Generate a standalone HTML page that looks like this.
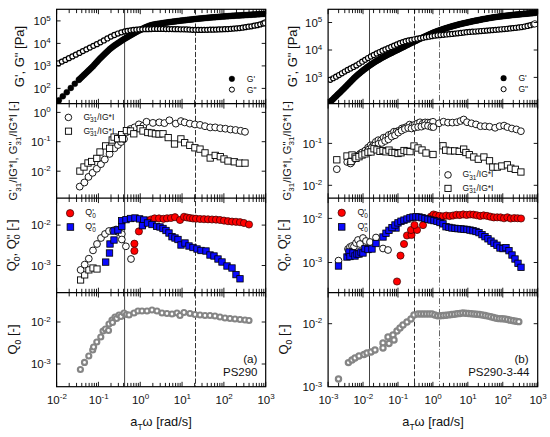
<!DOCTYPE html><html><head><meta charset="utf-8"><style>html,body{margin:0;padding:0;background:#fff}svg{display:block}</style></head><body>
<svg width="550" height="437" viewBox="0 0 550 437">
<rect width="550" height="437" fill="#fff"/>
<defs>
<clipPath id="c0"><rect x="56.6" y="9.3" width="209.1" height="94.4"/><rect x="328.1" y="9.3" width="209.6" height="94.4"/></clipPath>
<clipPath id="c1"><rect x="56.6" y="103.7" width="209.1" height="94.5"/><rect x="328.1" y="103.7" width="209.6" height="94.5"/></clipPath>
<clipPath id="c2"><rect x="56.6" y="198.2" width="209.1" height="94.4"/><rect x="328.1" y="198.2" width="209.6" height="94.4"/></clipPath>
<clipPath id="c3"><rect x="56.6" y="292.6" width="209.1" height="94.1"/><rect x="328.1" y="292.6" width="209.6" height="94.1"/></clipPath>
</defs>
<line x1="124.6" y1="9.3" x2="124.6" y2="386.7" stroke="#444" stroke-width="1.0" />
<line x1="195.5" y1="9.3" x2="195.5" y2="386.7" stroke="#333" stroke-width="1.0" stroke-dasharray="5.2 1.9"/>
<line x1="369.5" y1="9.3" x2="369.5" y2="386.7" stroke="#444" stroke-width="1.0" />
<line x1="414.5" y1="9.3" x2="414.5" y2="386.7" stroke="#333" stroke-width="1.0" stroke-dasharray="4.8 2.3"/>
<line x1="439.5" y1="9.3" x2="439.5" y2="386.7" stroke="#666" stroke-width="1.0" stroke-dasharray="5.9 2 0.8 2"/>
<g clip-path="url(#c0)">
<circle cx="58.8" cy="100.4" r="3.05" fill="#000" stroke="#000" stroke-width="0.3"/>
<circle cx="62.8" cy="96.31" r="3.05" fill="#000" stroke="#000" stroke-width="0.3"/>
<circle cx="66.8" cy="92.19" r="3.05" fill="#000" stroke="#000" stroke-width="0.3"/>
<circle cx="70.8" cy="87.96" r="3.05" fill="#000" stroke="#000" stroke-width="0.3"/>
<circle cx="74.8" cy="83.8" r="3.05" fill="#000" stroke="#000" stroke-width="0.3"/>
<circle cx="78.8" cy="79.9" r="3.05" fill="#000" stroke="#000" stroke-width="0.3"/>
<circle cx="80" cy="78.75" r="3.0" fill="#000" stroke="#000" stroke-width="0.3"/>
<circle cx="81.3" cy="77.51" r="3.0" fill="#000" stroke="#000" stroke-width="0.3"/>
<circle cx="82.6" cy="76.28" r="3.0" fill="#000" stroke="#000" stroke-width="0.3"/>
<circle cx="83.9" cy="75.04" r="3.0" fill="#000" stroke="#000" stroke-width="0.3"/>
<circle cx="85.2" cy="73.8" r="3.0" fill="#000" stroke="#000" stroke-width="0.3"/>
<circle cx="86.5" cy="72.55" r="3.0" fill="#000" stroke="#000" stroke-width="0.3"/>
<circle cx="87.8" cy="71.3" r="3.0" fill="#000" stroke="#000" stroke-width="0.3"/>
<circle cx="89.1" cy="70.06" r="3.0" fill="#000" stroke="#000" stroke-width="0.3"/>
<circle cx="90.4" cy="68.8" r="3.0" fill="#000" stroke="#000" stroke-width="0.3"/>
<circle cx="91.7" cy="67.51" r="3.0" fill="#000" stroke="#000" stroke-width="0.3"/>
<circle cx="93" cy="66.19" r="3.0" fill="#000" stroke="#000" stroke-width="0.3"/>
<circle cx="94.3" cy="64.79" r="3.0" fill="#000" stroke="#000" stroke-width="0.3"/>
<circle cx="95.6" cy="63.35" r="3.0" fill="#000" stroke="#000" stroke-width="0.3"/>
<circle cx="96.9" cy="61.89" r="3.0" fill="#000" stroke="#000" stroke-width="0.3"/>
<circle cx="98.2" cy="60.47" r="3.0" fill="#000" stroke="#000" stroke-width="0.3"/>
<circle cx="99.5" cy="59.11" r="3.0" fill="#000" stroke="#000" stroke-width="0.3"/>
<circle cx="100.8" cy="57.79" r="3.0" fill="#000" stroke="#000" stroke-width="0.3"/>
<circle cx="102.1" cy="56.48" r="3.0" fill="#000" stroke="#000" stroke-width="0.3"/>
<circle cx="103.4" cy="55.18" r="3.0" fill="#000" stroke="#000" stroke-width="0.3"/>
<circle cx="104.7" cy="53.9" r="3.0" fill="#000" stroke="#000" stroke-width="0.3"/>
<circle cx="106" cy="52.63" r="3.0" fill="#000" stroke="#000" stroke-width="0.3"/>
<circle cx="107.3" cy="51.4" r="3.0" fill="#000" stroke="#000" stroke-width="0.3"/>
<circle cx="108.6" cy="50.2" r="3.0" fill="#000" stroke="#000" stroke-width="0.3"/>
<circle cx="109.9" cy="49.05" r="3.0" fill="#000" stroke="#000" stroke-width="0.3"/>
<circle cx="111.2" cy="47.96" r="3.0" fill="#000" stroke="#000" stroke-width="0.3"/>
<circle cx="112.5" cy="46.94" r="3.0" fill="#000" stroke="#000" stroke-width="0.3"/>
<circle cx="113.8" cy="45.97" r="3.0" fill="#000" stroke="#000" stroke-width="0.3"/>
<circle cx="115.1" cy="45.05" r="3.0" fill="#000" stroke="#000" stroke-width="0.3"/>
<circle cx="116.4" cy="44.16" r="3.0" fill="#000" stroke="#000" stroke-width="0.3"/>
<circle cx="117.7" cy="43.29" r="3.0" fill="#000" stroke="#000" stroke-width="0.3"/>
<circle cx="119" cy="42.44" r="3.0" fill="#000" stroke="#000" stroke-width="0.3"/>
<circle cx="120.3" cy="41.59" r="3.0" fill="#000" stroke="#000" stroke-width="0.3"/>
<circle cx="121.6" cy="40.73" r="3.0" fill="#000" stroke="#000" stroke-width="0.3"/>
<circle cx="122.9" cy="39.87" r="3.0" fill="#000" stroke="#000" stroke-width="0.3"/>
<circle cx="124.2" cy="39.05" r="3.0" fill="#000" stroke="#000" stroke-width="0.3"/>
<circle cx="125.5" cy="38.27" r="3.0" fill="#000" stroke="#000" stroke-width="0.3"/>
<circle cx="126.8" cy="37.5" r="3.0" fill="#000" stroke="#000" stroke-width="0.3"/>
<circle cx="128.1" cy="36.72" r="3.0" fill="#000" stroke="#000" stroke-width="0.3"/>
<circle cx="129.4" cy="35.93" r="3.0" fill="#000" stroke="#000" stroke-width="0.3"/>
<circle cx="130.7" cy="35.16" r="3.0" fill="#000" stroke="#000" stroke-width="0.3"/>
<circle cx="132" cy="34.4" r="3.0" fill="#000" stroke="#000" stroke-width="0.3"/>
<circle cx="133.3" cy="33.66" r="3.0" fill="#000" stroke="#000" stroke-width="0.3"/>
<circle cx="134.6" cy="32.91" r="3.0" fill="#000" stroke="#000" stroke-width="0.3"/>
<circle cx="135.9" cy="32.19" r="3.0" fill="#000" stroke="#000" stroke-width="0.3"/>
<circle cx="137.2" cy="31.51" r="3.0" fill="#000" stroke="#000" stroke-width="0.3"/>
<circle cx="138.5" cy="30.85" r="3.0" fill="#000" stroke="#000" stroke-width="0.3"/>
<circle cx="139.8" cy="30.18" r="3.0" fill="#000" stroke="#000" stroke-width="0.3"/>
<circle cx="141.1" cy="29.51" r="3.0" fill="#000" stroke="#000" stroke-width="0.3"/>
<circle cx="142.4" cy="28.84" r="3.0" fill="#000" stroke="#000" stroke-width="0.3"/>
<circle cx="143.7" cy="28.19" r="3.0" fill="#000" stroke="#000" stroke-width="0.3"/>
<circle cx="145" cy="27.55" r="3.0" fill="#000" stroke="#000" stroke-width="0.3"/>
<circle cx="146.3" cy="26.95" r="3.0" fill="#000" stroke="#000" stroke-width="0.3"/>
<circle cx="147.6" cy="26.38" r="3.0" fill="#000" stroke="#000" stroke-width="0.3"/>
<circle cx="148.9" cy="25.88" r="3.0" fill="#000" stroke="#000" stroke-width="0.3"/>
<circle cx="150.2" cy="25.44" r="3.0" fill="#000" stroke="#000" stroke-width="0.3"/>
<circle cx="151.5" cy="25.06" r="3.0" fill="#000" stroke="#000" stroke-width="0.3"/>
<circle cx="152.8" cy="24.75" r="3.0" fill="#000" stroke="#000" stroke-width="0.3"/>
<circle cx="154.1" cy="24.49" r="3.0" fill="#000" stroke="#000" stroke-width="0.3"/>
<circle cx="155.4" cy="24.27" r="3.0" fill="#000" stroke="#000" stroke-width="0.3"/>
<circle cx="156.7" cy="24.06" r="3.0" fill="#000" stroke="#000" stroke-width="0.3"/>
<circle cx="158" cy="23.85" r="3.0" fill="#000" stroke="#000" stroke-width="0.3"/>
<circle cx="159.3" cy="23.63" r="3.0" fill="#000" stroke="#000" stroke-width="0.3"/>
<circle cx="160.6" cy="23.42" r="3.0" fill="#000" stroke="#000" stroke-width="0.3"/>
<circle cx="161.9" cy="23.22" r="3.0" fill="#000" stroke="#000" stroke-width="0.3"/>
<circle cx="163.2" cy="23.02" r="3.0" fill="#000" stroke="#000" stroke-width="0.3"/>
<circle cx="164.5" cy="22.83" r="3.0" fill="#000" stroke="#000" stroke-width="0.3"/>
<circle cx="165.8" cy="22.64" r="3.0" fill="#000" stroke="#000" stroke-width="0.3"/>
<circle cx="167.1" cy="22.46" r="3.0" fill="#000" stroke="#000" stroke-width="0.3"/>
<circle cx="168.4" cy="22.28" r="3.0" fill="#000" stroke="#000" stroke-width="0.3"/>
<circle cx="169.7" cy="22.1" r="3.0" fill="#000" stroke="#000" stroke-width="0.3"/>
<circle cx="171" cy="21.93" r="3.0" fill="#000" stroke="#000" stroke-width="0.3"/>
<circle cx="172.3" cy="21.75" r="3.0" fill="#000" stroke="#000" stroke-width="0.3"/>
<circle cx="173.6" cy="21.58" r="3.0" fill="#000" stroke="#000" stroke-width="0.3"/>
<circle cx="174.9" cy="21.41" r="3.0" fill="#000" stroke="#000" stroke-width="0.3"/>
<circle cx="176.2" cy="21.25" r="3.0" fill="#000" stroke="#000" stroke-width="0.3"/>
<circle cx="177.5" cy="21.08" r="3.0" fill="#000" stroke="#000" stroke-width="0.3"/>
<circle cx="178.8" cy="20.92" r="3.0" fill="#000" stroke="#000" stroke-width="0.3"/>
<circle cx="180.1" cy="20.76" r="3.0" fill="#000" stroke="#000" stroke-width="0.3"/>
<circle cx="181.4" cy="20.6" r="3.0" fill="#000" stroke="#000" stroke-width="0.3"/>
<circle cx="182.7" cy="20.44" r="3.0" fill="#000" stroke="#000" stroke-width="0.3"/>
<circle cx="184" cy="20.29" r="3.0" fill="#000" stroke="#000" stroke-width="0.3"/>
<circle cx="185.3" cy="20.14" r="3.0" fill="#000" stroke="#000" stroke-width="0.3"/>
<circle cx="186.6" cy="19.99" r="3.0" fill="#000" stroke="#000" stroke-width="0.3"/>
<circle cx="187.9" cy="19.84" r="3.0" fill="#000" stroke="#000" stroke-width="0.3"/>
<circle cx="189.2" cy="19.69" r="3.0" fill="#000" stroke="#000" stroke-width="0.3"/>
<circle cx="190.5" cy="19.54" r="3.0" fill="#000" stroke="#000" stroke-width="0.3"/>
<circle cx="191.8" cy="19.4" r="3.0" fill="#000" stroke="#000" stroke-width="0.3"/>
<circle cx="193.1" cy="19.25" r="3.0" fill="#000" stroke="#000" stroke-width="0.3"/>
<circle cx="194.4" cy="19.11" r="3.0" fill="#000" stroke="#000" stroke-width="0.3"/>
<circle cx="195.7" cy="18.97" r="3.0" fill="#000" stroke="#000" stroke-width="0.3"/>
<circle cx="197" cy="18.84" r="3.0" fill="#000" stroke="#000" stroke-width="0.3"/>
<circle cx="198.3" cy="18.7" r="3.0" fill="#000" stroke="#000" stroke-width="0.3"/>
<circle cx="199.6" cy="18.57" r="3.0" fill="#000" stroke="#000" stroke-width="0.3"/>
<circle cx="200.9" cy="18.44" r="3.0" fill="#000" stroke="#000" stroke-width="0.3"/>
<circle cx="202.2" cy="18.32" r="3.0" fill="#000" stroke="#000" stroke-width="0.3"/>
<circle cx="203.5" cy="18.19" r="3.0" fill="#000" stroke="#000" stroke-width="0.3"/>
<circle cx="204.8" cy="18.07" r="3.0" fill="#000" stroke="#000" stroke-width="0.3"/>
<circle cx="206.1" cy="17.95" r="3.0" fill="#000" stroke="#000" stroke-width="0.3"/>
<circle cx="207.4" cy="17.83" r="3.0" fill="#000" stroke="#000" stroke-width="0.3"/>
<circle cx="208.7" cy="17.72" r="3.0" fill="#000" stroke="#000" stroke-width="0.3"/>
<circle cx="210" cy="17.6" r="3.0" fill="#000" stroke="#000" stroke-width="0.3"/>
<circle cx="211.3" cy="17.49" r="3.0" fill="#000" stroke="#000" stroke-width="0.3"/>
<circle cx="212.6" cy="17.37" r="3.0" fill="#000" stroke="#000" stroke-width="0.3"/>
<circle cx="213.9" cy="17.26" r="3.0" fill="#000" stroke="#000" stroke-width="0.3"/>
<circle cx="215.2" cy="17.15" r="3.0" fill="#000" stroke="#000" stroke-width="0.3"/>
<circle cx="216.5" cy="17.04" r="3.0" fill="#000" stroke="#000" stroke-width="0.3"/>
<circle cx="217.8" cy="16.94" r="3.0" fill="#000" stroke="#000" stroke-width="0.3"/>
<circle cx="219.1" cy="16.83" r="3.0" fill="#000" stroke="#000" stroke-width="0.3"/>
<circle cx="220.4" cy="16.73" r="3.0" fill="#000" stroke="#000" stroke-width="0.3"/>
<circle cx="221.7" cy="16.62" r="3.0" fill="#000" stroke="#000" stroke-width="0.3"/>
<circle cx="223" cy="16.52" r="3.0" fill="#000" stroke="#000" stroke-width="0.3"/>
<circle cx="224.3" cy="16.42" r="3.0" fill="#000" stroke="#000" stroke-width="0.3"/>
<circle cx="225.6" cy="16.32" r="3.0" fill="#000" stroke="#000" stroke-width="0.3"/>
<circle cx="226.9" cy="16.22" r="3.0" fill="#000" stroke="#000" stroke-width="0.3"/>
<circle cx="228.2" cy="16.13" r="3.0" fill="#000" stroke="#000" stroke-width="0.3"/>
<circle cx="229.5" cy="16.04" r="3.0" fill="#000" stroke="#000" stroke-width="0.3"/>
<circle cx="230.8" cy="15.95" r="3.0" fill="#000" stroke="#000" stroke-width="0.3"/>
<circle cx="232.1" cy="15.86" r="3.0" fill="#000" stroke="#000" stroke-width="0.3"/>
<circle cx="233.4" cy="15.77" r="3.0" fill="#000" stroke="#000" stroke-width="0.3"/>
<circle cx="234.7" cy="15.69" r="3.0" fill="#000" stroke="#000" stroke-width="0.3"/>
<circle cx="236" cy="15.61" r="3.0" fill="#000" stroke="#000" stroke-width="0.3"/>
<circle cx="237.3" cy="15.54" r="3.0" fill="#000" stroke="#000" stroke-width="0.3"/>
<circle cx="238.6" cy="15.46" r="3.0" fill="#000" stroke="#000" stroke-width="0.3"/>
<circle cx="239.9" cy="15.38" r="3.0" fill="#000" stroke="#000" stroke-width="0.3"/>
<circle cx="241.2" cy="15.31" r="3.0" fill="#000" stroke="#000" stroke-width="0.3"/>
<circle cx="242.5" cy="15.24" r="3.0" fill="#000" stroke="#000" stroke-width="0.3"/>
<circle cx="243.8" cy="15.16" r="3.0" fill="#000" stroke="#000" stroke-width="0.3"/>
<circle cx="245.1" cy="15.09" r="3.0" fill="#000" stroke="#000" stroke-width="0.3"/>
<circle cx="246.4" cy="15.01" r="3.0" fill="#000" stroke="#000" stroke-width="0.3"/>
<circle cx="247.7" cy="14.94" r="3.0" fill="#000" stroke="#000" stroke-width="0.3"/>
<circle cx="249" cy="14.86" r="3.0" fill="#000" stroke="#000" stroke-width="0.3"/>
<circle cx="250.3" cy="14.78" r="3.0" fill="#000" stroke="#000" stroke-width="0.3"/>
<circle cx="251.6" cy="14.7" r="3.0" fill="#000" stroke="#000" stroke-width="0.3"/>
<circle cx="252.9" cy="14.62" r="3.0" fill="#000" stroke="#000" stroke-width="0.3"/>
<circle cx="254.2" cy="14.54" r="3.0" fill="#000" stroke="#000" stroke-width="0.3"/>
<circle cx="255.5" cy="14.45" r="3.0" fill="#000" stroke="#000" stroke-width="0.3"/>
<circle cx="256.8" cy="14.37" r="3.0" fill="#000" stroke="#000" stroke-width="0.3"/>
<circle cx="258.1" cy="14.28" r="3.0" fill="#000" stroke="#000" stroke-width="0.3"/>
<circle cx="259.4" cy="14.2" r="3.0" fill="#000" stroke="#000" stroke-width="0.3"/>
<circle cx="260.7" cy="14.11" r="3.0" fill="#000" stroke="#000" stroke-width="0.3"/>
<circle cx="262" cy="14.03" r="3.0" fill="#000" stroke="#000" stroke-width="0.3"/>
<circle cx="263.3" cy="13.94" r="3.0" fill="#000" stroke="#000" stroke-width="0.3"/>
<circle cx="264.6" cy="13.86" r="3.0" fill="#000" stroke="#000" stroke-width="0.3"/>
<circle cx="58.4" cy="63.3" r="2.55" fill="#fff" stroke="#000" stroke-width="1.2"/>
<circle cx="61.9" cy="61.6" r="2.55" fill="#fff" stroke="#000" stroke-width="1.2"/>
<circle cx="65.4" cy="59.89" r="2.55" fill="#fff" stroke="#000" stroke-width="1.2"/>
<circle cx="68.9" cy="58.16" r="2.55" fill="#fff" stroke="#000" stroke-width="1.2"/>
<circle cx="72.4" cy="56.41" r="2.55" fill="#fff" stroke="#000" stroke-width="1.2"/>
<circle cx="75.9" cy="54.65" r="2.55" fill="#fff" stroke="#000" stroke-width="1.2"/>
<circle cx="79.4" cy="52.88" r="2.55" fill="#fff" stroke="#000" stroke-width="1.2"/>
<circle cx="82.9" cy="51.1" r="2.55" fill="#fff" stroke="#000" stroke-width="1.2"/>
<circle cx="86.4" cy="49.35" r="2.55" fill="#fff" stroke="#000" stroke-width="1.2"/>
<circle cx="89.9" cy="47.6" r="2.55" fill="#fff" stroke="#000" stroke-width="1.2"/>
<circle cx="93.4" cy="45.85" r="2.55" fill="#fff" stroke="#000" stroke-width="1.2"/>
<circle cx="96.9" cy="44.13" r="2.55" fill="#fff" stroke="#000" stroke-width="1.2"/>
<circle cx="100.4" cy="42.37" r="2.55" fill="#fff" stroke="#000" stroke-width="1.2"/>
<circle cx="103.9" cy="40.46" r="2.55" fill="#fff" stroke="#000" stroke-width="1.2"/>
<circle cx="107.4" cy="38.44" r="2.55" fill="#fff" stroke="#000" stroke-width="1.2"/>
<circle cx="110.9" cy="36.6" r="2.55" fill="#fff" stroke="#000" stroke-width="1.2"/>
<circle cx="114.4" cy="35" r="2.55" fill="#fff" stroke="#000" stroke-width="1.2"/>
<circle cx="117.9" cy="33.56" r="2.55" fill="#fff" stroke="#000" stroke-width="1.2"/>
<circle cx="121.4" cy="32.33" r="2.55" fill="#fff" stroke="#000" stroke-width="1.2"/>
<circle cx="124.9" cy="31.34" r="2.55" fill="#fff" stroke="#000" stroke-width="1.2"/>
<circle cx="127.5" cy="30.77" r="2.5" fill="#fff" stroke="#000" stroke-width="1.25"/>
<circle cx="130.45" cy="30.29" r="2.5" fill="#fff" stroke="#000" stroke-width="1.25"/>
<circle cx="133.4" cy="29.93" r="2.5" fill="#fff" stroke="#000" stroke-width="1.25"/>
<circle cx="136.35" cy="29.67" r="2.5" fill="#fff" stroke="#000" stroke-width="1.25"/>
<circle cx="139.3" cy="29.49" r="2.5" fill="#fff" stroke="#000" stroke-width="1.25"/>
<circle cx="142.25" cy="29.35" r="2.5" fill="#fff" stroke="#000" stroke-width="1.25"/>
<circle cx="145.2" cy="29.23" r="2.5" fill="#fff" stroke="#000" stroke-width="1.25"/>
<circle cx="148.15" cy="29.13" r="2.5" fill="#fff" stroke="#000" stroke-width="1.25"/>
<circle cx="151.1" cy="29.04" r="2.5" fill="#fff" stroke="#000" stroke-width="1.25"/>
<circle cx="154.05" cy="28.99" r="2.5" fill="#fff" stroke="#000" stroke-width="1.25"/>
<circle cx="157" cy="28.97" r="2.5" fill="#fff" stroke="#000" stroke-width="1.25"/>
<circle cx="159.95" cy="28.97" r="2.5" fill="#fff" stroke="#000" stroke-width="1.25"/>
<circle cx="162.9" cy="28.99" r="2.5" fill="#fff" stroke="#000" stroke-width="1.25"/>
<circle cx="165.85" cy="29.02" r="2.5" fill="#fff" stroke="#000" stroke-width="1.25"/>
<circle cx="168.8" cy="29.06" r="2.5" fill="#fff" stroke="#000" stroke-width="1.25"/>
<circle cx="171.75" cy="29.11" r="2.5" fill="#fff" stroke="#000" stroke-width="1.25"/>
<circle cx="174.7" cy="29.16" r="2.5" fill="#fff" stroke="#000" stroke-width="1.25"/>
<circle cx="177.65" cy="29.22" r="2.5" fill="#fff" stroke="#000" stroke-width="1.25"/>
<circle cx="180.6" cy="29.28" r="2.5" fill="#fff" stroke="#000" stroke-width="1.25"/>
<circle cx="183.55" cy="29.35" r="2.5" fill="#fff" stroke="#000" stroke-width="1.25"/>
<circle cx="186.5" cy="29.43" r="2.5" fill="#fff" stroke="#000" stroke-width="1.25"/>
<circle cx="189.45" cy="29.57" r="2.5" fill="#fff" stroke="#000" stroke-width="1.25"/>
<circle cx="192.4" cy="29.76" r="2.5" fill="#fff" stroke="#000" stroke-width="1.25"/>
<circle cx="195.35" cy="29.87" r="2.5" fill="#fff" stroke="#000" stroke-width="1.25"/>
<circle cx="198.3" cy="29.9" r="2.5" fill="#fff" stroke="#000" stroke-width="1.25"/>
<circle cx="201.25" cy="29.88" r="2.5" fill="#fff" stroke="#000" stroke-width="1.25"/>
<circle cx="204.2" cy="29.83" r="2.5" fill="#fff" stroke="#000" stroke-width="1.25"/>
<circle cx="207.15" cy="29.78" r="2.5" fill="#fff" stroke="#000" stroke-width="1.25"/>
<circle cx="210.1" cy="29.71" r="2.5" fill="#fff" stroke="#000" stroke-width="1.25"/>
<circle cx="213.05" cy="29.63" r="2.5" fill="#fff" stroke="#000" stroke-width="1.25"/>
<circle cx="216" cy="29.54" r="2.5" fill="#fff" stroke="#000" stroke-width="1.25"/>
<circle cx="218.95" cy="29.44" r="2.5" fill="#fff" stroke="#000" stroke-width="1.25"/>
<circle cx="221.9" cy="29.32" r="2.5" fill="#fff" stroke="#000" stroke-width="1.25"/>
<circle cx="224.85" cy="29.17" r="2.5" fill="#fff" stroke="#000" stroke-width="1.25"/>
<circle cx="227.8" cy="29" r="2.5" fill="#fff" stroke="#000" stroke-width="1.25"/>
<circle cx="230.75" cy="28.81" r="2.5" fill="#fff" stroke="#000" stroke-width="1.25"/>
<circle cx="233.7" cy="28.58" r="2.5" fill="#fff" stroke="#000" stroke-width="1.25"/>
<circle cx="236.65" cy="28.33" r="2.5" fill="#fff" stroke="#000" stroke-width="1.25"/>
<circle cx="239.6" cy="28.03" r="2.5" fill="#fff" stroke="#000" stroke-width="1.25"/>
<circle cx="242.55" cy="27.64" r="2.5" fill="#fff" stroke="#000" stroke-width="1.25"/>
<circle cx="245.5" cy="27.2" r="2.5" fill="#fff" stroke="#000" stroke-width="1.25"/>
<circle cx="248.45" cy="26.73" r="2.5" fill="#fff" stroke="#000" stroke-width="1.25"/>
<circle cx="251.4" cy="26.25" r="2.5" fill="#fff" stroke="#000" stroke-width="1.25"/>
<circle cx="254.35" cy="25.73" r="2.5" fill="#fff" stroke="#000" stroke-width="1.25"/>
<circle cx="257.3" cy="25.13" r="2.5" fill="#fff" stroke="#000" stroke-width="1.25"/>
<circle cx="260.25" cy="24.39" r="2.5" fill="#fff" stroke="#000" stroke-width="1.25"/>
<circle cx="263.2" cy="23.54" r="2.5" fill="#fff" stroke="#000" stroke-width="1.25"/>
<circle cx="327.5" cy="104.5" r="3.0" fill="#000" stroke="#000" stroke-width="0.3"/>
<circle cx="328.6" cy="103.43" r="3.0" fill="#000" stroke="#000" stroke-width="0.3"/>
<circle cx="329.7" cy="102.35" r="3.0" fill="#000" stroke="#000" stroke-width="0.3"/>
<circle cx="330.8" cy="101.28" r="3.0" fill="#000" stroke="#000" stroke-width="0.3"/>
<circle cx="331.9" cy="100.2" r="3.0" fill="#000" stroke="#000" stroke-width="0.3"/>
<circle cx="333" cy="99.13" r="3.0" fill="#000" stroke="#000" stroke-width="0.3"/>
<circle cx="334.1" cy="98.05" r="3.0" fill="#000" stroke="#000" stroke-width="0.3"/>
<circle cx="335.2" cy="96.98" r="3.0" fill="#000" stroke="#000" stroke-width="0.3"/>
<circle cx="336.3" cy="95.91" r="3.0" fill="#000" stroke="#000" stroke-width="0.3"/>
<circle cx="337.4" cy="94.84" r="3.0" fill="#000" stroke="#000" stroke-width="0.3"/>
<circle cx="338.5" cy="93.77" r="3.0" fill="#000" stroke="#000" stroke-width="0.3"/>
<circle cx="339.6" cy="92.7" r="3.0" fill="#000" stroke="#000" stroke-width="0.3"/>
<circle cx="340.7" cy="91.64" r="3.0" fill="#000" stroke="#000" stroke-width="0.3"/>
<circle cx="341.8" cy="90.56" r="3.0" fill="#000" stroke="#000" stroke-width="0.3"/>
<circle cx="342.9" cy="89.48" r="3.0" fill="#000" stroke="#000" stroke-width="0.3"/>
<circle cx="344" cy="88.4" r="3.0" fill="#000" stroke="#000" stroke-width="0.3"/>
<circle cx="345.1" cy="87.29" r="3.0" fill="#000" stroke="#000" stroke-width="0.3"/>
<circle cx="346.2" cy="86.17" r="3.0" fill="#000" stroke="#000" stroke-width="0.3"/>
<circle cx="347.3" cy="85.04" r="3.0" fill="#000" stroke="#000" stroke-width="0.3"/>
<circle cx="348.4" cy="83.89" r="3.0" fill="#000" stroke="#000" stroke-width="0.3"/>
<circle cx="349.5" cy="82.76" r="3.0" fill="#000" stroke="#000" stroke-width="0.3"/>
<circle cx="350.6" cy="81.63" r="3.0" fill="#000" stroke="#000" stroke-width="0.3"/>
<circle cx="351.7" cy="80.51" r="3.0" fill="#000" stroke="#000" stroke-width="0.3"/>
<circle cx="352.8" cy="79.41" r="3.0" fill="#000" stroke="#000" stroke-width="0.3"/>
<circle cx="353.9" cy="78.35" r="3.0" fill="#000" stroke="#000" stroke-width="0.3"/>
<circle cx="355" cy="77.3" r="3.0" fill="#000" stroke="#000" stroke-width="0.3"/>
<circle cx="356.1" cy="76.29" r="3.0" fill="#000" stroke="#000" stroke-width="0.3"/>
<circle cx="357.2" cy="75.32" r="3.0" fill="#000" stroke="#000" stroke-width="0.3"/>
<circle cx="358.3" cy="74.36" r="3.0" fill="#000" stroke="#000" stroke-width="0.3"/>
<circle cx="359.4" cy="73.42" r="3.0" fill="#000" stroke="#000" stroke-width="0.3"/>
<circle cx="360.5" cy="72.5" r="3.0" fill="#000" stroke="#000" stroke-width="0.3"/>
<circle cx="361.6" cy="71.59" r="3.0" fill="#000" stroke="#000" stroke-width="0.3"/>
<circle cx="362.7" cy="70.7" r="3.0" fill="#000" stroke="#000" stroke-width="0.3"/>
<circle cx="363.8" cy="69.83" r="3.0" fill="#000" stroke="#000" stroke-width="0.3"/>
<circle cx="364.9" cy="68.98" r="3.0" fill="#000" stroke="#000" stroke-width="0.3"/>
<circle cx="366" cy="68.13" r="3.0" fill="#000" stroke="#000" stroke-width="0.3"/>
<circle cx="367.1" cy="67.31" r="3.0" fill="#000" stroke="#000" stroke-width="0.3"/>
<circle cx="368.2" cy="66.51" r="3.0" fill="#000" stroke="#000" stroke-width="0.3"/>
<circle cx="369.3" cy="65.72" r="3.0" fill="#000" stroke="#000" stroke-width="0.3"/>
<circle cx="370.4" cy="64.95" r="3.0" fill="#000" stroke="#000" stroke-width="0.3"/>
<circle cx="371.5" cy="64.19" r="3.0" fill="#000" stroke="#000" stroke-width="0.3"/>
<circle cx="372.6" cy="63.46" r="3.0" fill="#000" stroke="#000" stroke-width="0.3"/>
<circle cx="373.7" cy="62.74" r="3.0" fill="#000" stroke="#000" stroke-width="0.3"/>
<circle cx="374.8" cy="62.04" r="3.0" fill="#000" stroke="#000" stroke-width="0.3"/>
<circle cx="375.9" cy="61.36" r="3.0" fill="#000" stroke="#000" stroke-width="0.3"/>
<circle cx="377" cy="60.69" r="3.0" fill="#000" stroke="#000" stroke-width="0.3"/>
<circle cx="378.1" cy="60.03" r="3.0" fill="#000" stroke="#000" stroke-width="0.3"/>
<circle cx="379.2" cy="59.39" r="3.0" fill="#000" stroke="#000" stroke-width="0.3"/>
<circle cx="380.3" cy="58.75" r="3.0" fill="#000" stroke="#000" stroke-width="0.3"/>
<circle cx="381.4" cy="58.12" r="3.0" fill="#000" stroke="#000" stroke-width="0.3"/>
<circle cx="382.5" cy="57.5" r="3.0" fill="#000" stroke="#000" stroke-width="0.3"/>
<circle cx="383.6" cy="56.89" r="3.0" fill="#000" stroke="#000" stroke-width="0.3"/>
<circle cx="384.7" cy="56.29" r="3.0" fill="#000" stroke="#000" stroke-width="0.3"/>
<circle cx="385.8" cy="55.71" r="3.0" fill="#000" stroke="#000" stroke-width="0.3"/>
<circle cx="386.9" cy="55.13" r="3.0" fill="#000" stroke="#000" stroke-width="0.3"/>
<circle cx="388" cy="54.57" r="3.0" fill="#000" stroke="#000" stroke-width="0.3"/>
<circle cx="389.1" cy="54.02" r="3.0" fill="#000" stroke="#000" stroke-width="0.3"/>
<circle cx="390.2" cy="53.47" r="3.0" fill="#000" stroke="#000" stroke-width="0.3"/>
<circle cx="391.3" cy="52.93" r="3.0" fill="#000" stroke="#000" stroke-width="0.3"/>
<circle cx="392.4" cy="52.39" r="3.0" fill="#000" stroke="#000" stroke-width="0.3"/>
<circle cx="393.5" cy="51.86" r="3.0" fill="#000" stroke="#000" stroke-width="0.3"/>
<circle cx="394.6" cy="51.32" r="3.0" fill="#000" stroke="#000" stroke-width="0.3"/>
<circle cx="395.7" cy="50.78" r="3.0" fill="#000" stroke="#000" stroke-width="0.3"/>
<circle cx="396.8" cy="50.24" r="3.0" fill="#000" stroke="#000" stroke-width="0.3"/>
<circle cx="397.9" cy="49.7" r="3.0" fill="#000" stroke="#000" stroke-width="0.3"/>
<circle cx="399" cy="49.15" r="3.0" fill="#000" stroke="#000" stroke-width="0.3"/>
<circle cx="400.1" cy="48.6" r="3.0" fill="#000" stroke="#000" stroke-width="0.3"/>
<circle cx="401.2" cy="48.04" r="3.0" fill="#000" stroke="#000" stroke-width="0.3"/>
<circle cx="402.3" cy="47.49" r="3.0" fill="#000" stroke="#000" stroke-width="0.3"/>
<circle cx="403.4" cy="46.94" r="3.0" fill="#000" stroke="#000" stroke-width="0.3"/>
<circle cx="404.5" cy="46.38" r="3.0" fill="#000" stroke="#000" stroke-width="0.3"/>
<circle cx="405.6" cy="45.83" r="3.0" fill="#000" stroke="#000" stroke-width="0.3"/>
<circle cx="406.7" cy="45.28" r="3.0" fill="#000" stroke="#000" stroke-width="0.3"/>
<circle cx="407.8" cy="44.72" r="3.0" fill="#000" stroke="#000" stroke-width="0.3"/>
<circle cx="408.9" cy="44.17" r="3.0" fill="#000" stroke="#000" stroke-width="0.3"/>
<circle cx="410" cy="43.62" r="3.0" fill="#000" stroke="#000" stroke-width="0.3"/>
<circle cx="411.1" cy="43.08" r="3.0" fill="#000" stroke="#000" stroke-width="0.3"/>
<circle cx="412.2" cy="42.53" r="3.0" fill="#000" stroke="#000" stroke-width="0.3"/>
<circle cx="413.3" cy="41.99" r="3.0" fill="#000" stroke="#000" stroke-width="0.3"/>
<circle cx="414.4" cy="41.45" r="3.0" fill="#000" stroke="#000" stroke-width="0.3"/>
<circle cx="415.5" cy="40.92" r="3.0" fill="#000" stroke="#000" stroke-width="0.3"/>
<circle cx="416.6" cy="40.39" r="3.0" fill="#000" stroke="#000" stroke-width="0.3"/>
<circle cx="417.7" cy="39.87" r="3.0" fill="#000" stroke="#000" stroke-width="0.3"/>
<circle cx="418.8" cy="39.35" r="3.0" fill="#000" stroke="#000" stroke-width="0.3"/>
<circle cx="419.9" cy="38.84" r="3.0" fill="#000" stroke="#000" stroke-width="0.3"/>
<circle cx="421" cy="38.33" r="3.0" fill="#000" stroke="#000" stroke-width="0.3"/>
<circle cx="422.1" cy="37.83" r="3.0" fill="#000" stroke="#000" stroke-width="0.3"/>
<circle cx="423.2" cy="37.32" r="3.0" fill="#000" stroke="#000" stroke-width="0.3"/>
<circle cx="424.3" cy="36.82" r="3.0" fill="#000" stroke="#000" stroke-width="0.3"/>
<circle cx="425.4" cy="36.32" r="3.0" fill="#000" stroke="#000" stroke-width="0.3"/>
<circle cx="426.5" cy="35.81" r="3.0" fill="#000" stroke="#000" stroke-width="0.3"/>
<circle cx="427.6" cy="35.29" r="3.0" fill="#000" stroke="#000" stroke-width="0.3"/>
<circle cx="428.7" cy="34.78" r="3.0" fill="#000" stroke="#000" stroke-width="0.3"/>
<circle cx="429.8" cy="34.27" r="3.0" fill="#000" stroke="#000" stroke-width="0.3"/>
<circle cx="430.9" cy="33.77" r="3.0" fill="#000" stroke="#000" stroke-width="0.3"/>
<circle cx="432" cy="33.27" r="3.0" fill="#000" stroke="#000" stroke-width="0.3"/>
<circle cx="433.1" cy="32.79" r="3.0" fill="#000" stroke="#000" stroke-width="0.3"/>
<circle cx="434.2" cy="32.33" r="3.0" fill="#000" stroke="#000" stroke-width="0.3"/>
<circle cx="435.3" cy="31.88" r="3.0" fill="#000" stroke="#000" stroke-width="0.3"/>
<circle cx="436.4" cy="31.46" r="3.0" fill="#000" stroke="#000" stroke-width="0.3"/>
<circle cx="437.5" cy="31.04" r="3.0" fill="#000" stroke="#000" stroke-width="0.3"/>
<circle cx="438.6" cy="30.65" r="3.0" fill="#000" stroke="#000" stroke-width="0.3"/>
<circle cx="439.7" cy="30.26" r="3.0" fill="#000" stroke="#000" stroke-width="0.3"/>
<circle cx="440.8" cy="29.88" r="3.0" fill="#000" stroke="#000" stroke-width="0.3"/>
<circle cx="441.9" cy="29.52" r="3.0" fill="#000" stroke="#000" stroke-width="0.3"/>
<circle cx="443" cy="29.15" r="3.0" fill="#000" stroke="#000" stroke-width="0.3"/>
<circle cx="444.1" cy="28.79" r="3.0" fill="#000" stroke="#000" stroke-width="0.3"/>
<circle cx="445.2" cy="28.44" r="3.0" fill="#000" stroke="#000" stroke-width="0.3"/>
<circle cx="446.3" cy="28.08" r="3.0" fill="#000" stroke="#000" stroke-width="0.3"/>
<circle cx="447.4" cy="27.73" r="3.0" fill="#000" stroke="#000" stroke-width="0.3"/>
<circle cx="448.5" cy="27.39" r="3.0" fill="#000" stroke="#000" stroke-width="0.3"/>
<circle cx="449.6" cy="27.06" r="3.0" fill="#000" stroke="#000" stroke-width="0.3"/>
<circle cx="450.7" cy="26.73" r="3.0" fill="#000" stroke="#000" stroke-width="0.3"/>
<circle cx="451.8" cy="26.41" r="3.0" fill="#000" stroke="#000" stroke-width="0.3"/>
<circle cx="452.9" cy="26.09" r="3.0" fill="#000" stroke="#000" stroke-width="0.3"/>
<circle cx="454" cy="25.78" r="3.0" fill="#000" stroke="#000" stroke-width="0.3"/>
<circle cx="455.1" cy="25.47" r="3.0" fill="#000" stroke="#000" stroke-width="0.3"/>
<circle cx="456.2" cy="25.17" r="3.0" fill="#000" stroke="#000" stroke-width="0.3"/>
<circle cx="457.3" cy="24.88" r="3.0" fill="#000" stroke="#000" stroke-width="0.3"/>
<circle cx="458.4" cy="24.59" r="3.0" fill="#000" stroke="#000" stroke-width="0.3"/>
<circle cx="459.5" cy="24.31" r="3.0" fill="#000" stroke="#000" stroke-width="0.3"/>
<circle cx="460.6" cy="24.04" r="3.0" fill="#000" stroke="#000" stroke-width="0.3"/>
<circle cx="461.7" cy="23.77" r="3.0" fill="#000" stroke="#000" stroke-width="0.3"/>
<circle cx="462.8" cy="23.51" r="3.0" fill="#000" stroke="#000" stroke-width="0.3"/>
<circle cx="463.9" cy="23.25" r="3.0" fill="#000" stroke="#000" stroke-width="0.3"/>
<circle cx="465" cy="23" r="3.0" fill="#000" stroke="#000" stroke-width="0.3"/>
<circle cx="466.1" cy="22.75" r="3.0" fill="#000" stroke="#000" stroke-width="0.3"/>
<circle cx="467.2" cy="22.5" r="3.0" fill="#000" stroke="#000" stroke-width="0.3"/>
<circle cx="468.3" cy="22.26" r="3.0" fill="#000" stroke="#000" stroke-width="0.3"/>
<circle cx="469.4" cy="22.02" r="3.0" fill="#000" stroke="#000" stroke-width="0.3"/>
<circle cx="470.5" cy="21.78" r="3.0" fill="#000" stroke="#000" stroke-width="0.3"/>
<circle cx="471.6" cy="21.54" r="3.0" fill="#000" stroke="#000" stroke-width="0.3"/>
<circle cx="472.7" cy="21.3" r="3.0" fill="#000" stroke="#000" stroke-width="0.3"/>
<circle cx="473.8" cy="21.07" r="3.0" fill="#000" stroke="#000" stroke-width="0.3"/>
<circle cx="474.9" cy="20.84" r="3.0" fill="#000" stroke="#000" stroke-width="0.3"/>
<circle cx="476" cy="20.61" r="3.0" fill="#000" stroke="#000" stroke-width="0.3"/>
<circle cx="477.1" cy="20.38" r="3.0" fill="#000" stroke="#000" stroke-width="0.3"/>
<circle cx="478.2" cy="20.16" r="3.0" fill="#000" stroke="#000" stroke-width="0.3"/>
<circle cx="479.3" cy="19.94" r="3.0" fill="#000" stroke="#000" stroke-width="0.3"/>
<circle cx="480.4" cy="19.72" r="3.0" fill="#000" stroke="#000" stroke-width="0.3"/>
<circle cx="481.5" cy="19.51" r="3.0" fill="#000" stroke="#000" stroke-width="0.3"/>
<circle cx="482.6" cy="19.3" r="3.0" fill="#000" stroke="#000" stroke-width="0.3"/>
<circle cx="483.7" cy="19.09" r="3.0" fill="#000" stroke="#000" stroke-width="0.3"/>
<circle cx="484.8" cy="18.88" r="3.0" fill="#000" stroke="#000" stroke-width="0.3"/>
<circle cx="485.9" cy="18.68" r="3.0" fill="#000" stroke="#000" stroke-width="0.3"/>
<circle cx="487" cy="18.47" r="3.0" fill="#000" stroke="#000" stroke-width="0.3"/>
<circle cx="488.1" cy="18.28" r="3.0" fill="#000" stroke="#000" stroke-width="0.3"/>
<circle cx="489.2" cy="18.09" r="3.0" fill="#000" stroke="#000" stroke-width="0.3"/>
<circle cx="490.3" cy="17.9" r="3.0" fill="#000" stroke="#000" stroke-width="0.3"/>
<circle cx="491.4" cy="17.72" r="3.0" fill="#000" stroke="#000" stroke-width="0.3"/>
<circle cx="492.5" cy="17.54" r="3.0" fill="#000" stroke="#000" stroke-width="0.3"/>
<circle cx="493.6" cy="17.36" r="3.0" fill="#000" stroke="#000" stroke-width="0.3"/>
<circle cx="494.7" cy="17.2" r="3.0" fill="#000" stroke="#000" stroke-width="0.3"/>
<circle cx="495.8" cy="17.03" r="3.0" fill="#000" stroke="#000" stroke-width="0.3"/>
<circle cx="496.9" cy="16.88" r="3.0" fill="#000" stroke="#000" stroke-width="0.3"/>
<circle cx="498" cy="16.72" r="3.0" fill="#000" stroke="#000" stroke-width="0.3"/>
<circle cx="499.1" cy="16.57" r="3.0" fill="#000" stroke="#000" stroke-width="0.3"/>
<circle cx="500.2" cy="16.43" r="3.0" fill="#000" stroke="#000" stroke-width="0.3"/>
<circle cx="501.3" cy="16.29" r="3.0" fill="#000" stroke="#000" stroke-width="0.3"/>
<circle cx="502.4" cy="16.16" r="3.0" fill="#000" stroke="#000" stroke-width="0.3"/>
<circle cx="503.5" cy="16.02" r="3.0" fill="#000" stroke="#000" stroke-width="0.3"/>
<circle cx="504.6" cy="15.89" r="3.0" fill="#000" stroke="#000" stroke-width="0.3"/>
<circle cx="505.7" cy="15.76" r="3.0" fill="#000" stroke="#000" stroke-width="0.3"/>
<circle cx="506.8" cy="15.64" r="3.0" fill="#000" stroke="#000" stroke-width="0.3"/>
<circle cx="507.9" cy="15.51" r="3.0" fill="#000" stroke="#000" stroke-width="0.3"/>
<circle cx="509" cy="15.39" r="3.0" fill="#000" stroke="#000" stroke-width="0.3"/>
<circle cx="510.1" cy="15.27" r="3.0" fill="#000" stroke="#000" stroke-width="0.3"/>
<circle cx="511.2" cy="15.15" r="3.0" fill="#000" stroke="#000" stroke-width="0.3"/>
<circle cx="512.3" cy="15.04" r="3.0" fill="#000" stroke="#000" stroke-width="0.3"/>
<circle cx="513.4" cy="14.93" r="3.0" fill="#000" stroke="#000" stroke-width="0.3"/>
<circle cx="514.5" cy="14.82" r="3.0" fill="#000" stroke="#000" stroke-width="0.3"/>
<circle cx="515.6" cy="14.71" r="3.0" fill="#000" stroke="#000" stroke-width="0.3"/>
<circle cx="516.7" cy="14.6" r="3.0" fill="#000" stroke="#000" stroke-width="0.3"/>
<circle cx="517.8" cy="14.5" r="3.0" fill="#000" stroke="#000" stroke-width="0.3"/>
<circle cx="518.9" cy="14.39" r="3.0" fill="#000" stroke="#000" stroke-width="0.3"/>
<circle cx="520" cy="14.29" r="3.0" fill="#000" stroke="#000" stroke-width="0.3"/>
<circle cx="521.1" cy="14.18" r="3.0" fill="#000" stroke="#000" stroke-width="0.3"/>
<circle cx="522.2" cy="14.08" r="3.0" fill="#000" stroke="#000" stroke-width="0.3"/>
<circle cx="523.3" cy="13.97" r="3.0" fill="#000" stroke="#000" stroke-width="0.3"/>
<circle cx="524.4" cy="13.87" r="3.0" fill="#000" stroke="#000" stroke-width="0.3"/>
<circle cx="525.5" cy="13.76" r="3.0" fill="#000" stroke="#000" stroke-width="0.3"/>
<circle cx="526.6" cy="13.66" r="3.0" fill="#000" stroke="#000" stroke-width="0.3"/>
<circle cx="527.7" cy="13.56" r="3.0" fill="#000" stroke="#000" stroke-width="0.3"/>
<circle cx="528.8" cy="13.46" r="3.0" fill="#000" stroke="#000" stroke-width="0.3"/>
<circle cx="529.9" cy="13.36" r="3.0" fill="#000" stroke="#000" stroke-width="0.3"/>
<circle cx="531" cy="13.26" r="3.0" fill="#000" stroke="#000" stroke-width="0.3"/>
<circle cx="532.1" cy="13.15" r="3.0" fill="#000" stroke="#000" stroke-width="0.3"/>
<circle cx="533.2" cy="13.05" r="3.0" fill="#000" stroke="#000" stroke-width="0.3"/>
<circle cx="534.3" cy="12.96" r="3.0" fill="#000" stroke="#000" stroke-width="0.3"/>
<circle cx="535.4" cy="12.85" r="3.0" fill="#000" stroke="#000" stroke-width="0.3"/>
<circle cx="330.3" cy="79.8" r="2.55" fill="#fff" stroke="#000" stroke-width="1.15"/>
<circle cx="333.2" cy="78.25" r="2.55" fill="#fff" stroke="#000" stroke-width="1.15"/>
<circle cx="336.1" cy="76.68" r="2.55" fill="#fff" stroke="#000" stroke-width="1.15"/>
<circle cx="339" cy="75.03" r="2.55" fill="#fff" stroke="#000" stroke-width="1.15"/>
<circle cx="341.9" cy="73.33" r="2.55" fill="#fff" stroke="#000" stroke-width="1.15"/>
<circle cx="344.8" cy="71.59" r="2.55" fill="#fff" stroke="#000" stroke-width="1.15"/>
<circle cx="347.7" cy="69.88" r="2.55" fill="#fff" stroke="#000" stroke-width="1.15"/>
<circle cx="350.6" cy="68.4" r="2.55" fill="#fff" stroke="#000" stroke-width="1.15"/>
<circle cx="353.5" cy="66.98" r="2.55" fill="#fff" stroke="#000" stroke-width="1.15"/>
<circle cx="356.4" cy="65.38" r="2.55" fill="#fff" stroke="#000" stroke-width="1.15"/>
<circle cx="359.3" cy="63.59" r="2.55" fill="#fff" stroke="#000" stroke-width="1.15"/>
<circle cx="362.2" cy="61.73" r="2.55" fill="#fff" stroke="#000" stroke-width="1.15"/>
<circle cx="365.1" cy="59.87" r="2.55" fill="#fff" stroke="#000" stroke-width="1.15"/>
<circle cx="368" cy="58.08" r="2.55" fill="#fff" stroke="#000" stroke-width="1.15"/>
<circle cx="370.9" cy="56.43" r="2.55" fill="#fff" stroke="#000" stroke-width="1.15"/>
<circle cx="373.8" cy="54.9" r="2.55" fill="#fff" stroke="#000" stroke-width="1.15"/>
<circle cx="376.7" cy="53.47" r="2.55" fill="#fff" stroke="#000" stroke-width="1.15"/>
<circle cx="379.6" cy="52.09" r="2.55" fill="#fff" stroke="#000" stroke-width="1.15"/>
<circle cx="382.5" cy="50.74" r="2.55" fill="#fff" stroke="#000" stroke-width="1.15"/>
<circle cx="385.4" cy="49.42" r="2.55" fill="#fff" stroke="#000" stroke-width="1.15"/>
<circle cx="388.3" cy="48.15" r="2.55" fill="#fff" stroke="#000" stroke-width="1.15"/>
<circle cx="391.2" cy="46.92" r="2.55" fill="#fff" stroke="#000" stroke-width="1.15"/>
<circle cx="394.1" cy="45.69" r="2.55" fill="#fff" stroke="#000" stroke-width="1.15"/>
<circle cx="397" cy="44.45" r="2.55" fill="#fff" stroke="#000" stroke-width="1.15"/>
<circle cx="399.9" cy="43.24" r="2.55" fill="#fff" stroke="#000" stroke-width="1.15"/>
<circle cx="402.8" cy="42.14" r="2.55" fill="#fff" stroke="#000" stroke-width="1.15"/>
<circle cx="405.7" cy="41.21" r="2.55" fill="#fff" stroke="#000" stroke-width="1.15"/>
<circle cx="408.6" cy="40.47" r="2.55" fill="#fff" stroke="#000" stroke-width="1.15"/>
<circle cx="411.5" cy="39.85" r="2.55" fill="#fff" stroke="#000" stroke-width="1.15"/>
<circle cx="414.4" cy="39.28" r="2.55" fill="#fff" stroke="#000" stroke-width="1.15"/>
<circle cx="417.3" cy="38.71" r="2.55" fill="#fff" stroke="#000" stroke-width="1.15"/>
<circle cx="420.2" cy="38.19" r="2.55" fill="#fff" stroke="#000" stroke-width="1.15"/>
<circle cx="423.1" cy="37.71" r="2.55" fill="#fff" stroke="#000" stroke-width="1.15"/>
<circle cx="426" cy="37.22" r="2.55" fill="#fff" stroke="#000" stroke-width="1.15"/>
<circle cx="428.9" cy="36.7" r="2.55" fill="#fff" stroke="#000" stroke-width="1.15"/>
<circle cx="431.8" cy="36.13" r="2.55" fill="#fff" stroke="#000" stroke-width="1.15"/>
<circle cx="434.7" cy="35.64" r="2.55" fill="#fff" stroke="#000" stroke-width="1.15"/>
<circle cx="437.6" cy="35.3" r="2.55" fill="#fff" stroke="#000" stroke-width="1.15"/>
<circle cx="440.5" cy="35.02" r="2.55" fill="#fff" stroke="#000" stroke-width="1.15"/>
<circle cx="443.4" cy="34.75" r="2.55" fill="#fff" stroke="#000" stroke-width="1.15"/>
<circle cx="446.3" cy="34.47" r="2.55" fill="#fff" stroke="#000" stroke-width="1.15"/>
<circle cx="449.2" cy="34.19" r="2.55" fill="#fff" stroke="#000" stroke-width="1.15"/>
<circle cx="452.1" cy="33.9" r="2.55" fill="#fff" stroke="#000" stroke-width="1.15"/>
<circle cx="455" cy="33.6" r="2.55" fill="#fff" stroke="#000" stroke-width="1.15"/>
<circle cx="457.9" cy="33.26" r="2.55" fill="#fff" stroke="#000" stroke-width="1.15"/>
<circle cx="460.8" cy="32.91" r="2.55" fill="#fff" stroke="#000" stroke-width="1.15"/>
<circle cx="463.7" cy="32.56" r="2.55" fill="#fff" stroke="#000" stroke-width="1.15"/>
<circle cx="466.6" cy="32.24" r="2.55" fill="#fff" stroke="#000" stroke-width="1.15"/>
<circle cx="469.5" cy="31.97" r="2.55" fill="#fff" stroke="#000" stroke-width="1.15"/>
<circle cx="472.4" cy="31.74" r="2.55" fill="#fff" stroke="#000" stroke-width="1.15"/>
<circle cx="475.3" cy="31.52" r="2.55" fill="#fff" stroke="#000" stroke-width="1.15"/>
<circle cx="478.2" cy="31.3" r="2.55" fill="#fff" stroke="#000" stroke-width="1.15"/>
<circle cx="481.1" cy="31.07" r="2.55" fill="#fff" stroke="#000" stroke-width="1.15"/>
<circle cx="484" cy="30.84" r="2.55" fill="#fff" stroke="#000" stroke-width="1.15"/>
<circle cx="486.9" cy="30.6" r="2.55" fill="#fff" stroke="#000" stroke-width="1.15"/>
<circle cx="489.8" cy="30.36" r="2.55" fill="#fff" stroke="#000" stroke-width="1.15"/>
<circle cx="492.7" cy="30.11" r="2.55" fill="#fff" stroke="#000" stroke-width="1.15"/>
<circle cx="495.6" cy="29.86" r="2.55" fill="#fff" stroke="#000" stroke-width="1.15"/>
<circle cx="498.5" cy="29.6" r="2.55" fill="#fff" stroke="#000" stroke-width="1.15"/>
<circle cx="501.4" cy="29.33" r="2.55" fill="#fff" stroke="#000" stroke-width="1.15"/>
<circle cx="504.3" cy="29.05" r="2.55" fill="#fff" stroke="#000" stroke-width="1.15"/>
<circle cx="507.2" cy="28.75" r="2.55" fill="#fff" stroke="#000" stroke-width="1.15"/>
<circle cx="510.1" cy="28.43" r="2.55" fill="#fff" stroke="#000" stroke-width="1.15"/>
<circle cx="513" cy="28.1" r="2.55" fill="#fff" stroke="#000" stroke-width="1.15"/>
<circle cx="515.9" cy="27.76" r="2.55" fill="#fff" stroke="#000" stroke-width="1.15"/>
<circle cx="518.8" cy="27.4" r="2.55" fill="#fff" stroke="#000" stroke-width="1.15"/>
<circle cx="521.7" cy="27.02" r="2.55" fill="#fff" stroke="#000" stroke-width="1.15"/>
<circle cx="524.6" cy="26.57" r="2.55" fill="#fff" stroke="#000" stroke-width="1.15"/>
<circle cx="527.5" cy="25.97" r="2.55" fill="#fff" stroke="#000" stroke-width="1.15"/>
<circle cx="530.4" cy="25.22" r="2.55" fill="#fff" stroke="#000" stroke-width="1.15"/>
<circle cx="533.3" cy="24.36" r="2.55" fill="#fff" stroke="#000" stroke-width="1.15"/>
<circle cx="265.5" cy="22.8" r="3.2" fill="#fff" stroke="#000" stroke-width="1.0"/>
<circle cx="534.8" cy="23.9" r="3.2" fill="#fff" stroke="#000" stroke-width="0.9"/>
<circle cx="231.9" cy="78.8" r="2.85" fill="#000" stroke="#000" stroke-width="0.3"/>
<circle cx="231.9" cy="89.6" r="2.55" fill="#fff" stroke="#000" stroke-width="1.0"/>
<circle cx="503.6" cy="78.2" r="2.85" fill="#000" stroke="#000" stroke-width="0.3"/>
<circle cx="503.6" cy="89.2" r="2.55" fill="#fff" stroke="#000" stroke-width="1.0"/>
<g font-family='"Liberation Sans", sans-serif' fill="#111">
<text x="246.8" y="81.7" font-size="8.5">G'</text>
<text x="246.8" y="92.6" font-size="8.5">G"</text>
<text x="518.4" y="81.1" font-size="8.5">G'</text>
<text x="518.4" y="92.1" font-size="8.5">G"</text>
</g>
</g>
<g clip-path="url(#c1)">
<circle cx="79.7" cy="186.6" r="3.45" fill="#fff" stroke="#000" stroke-width="0.9"/>
<circle cx="84.4" cy="182.5" r="3.45" fill="#fff" stroke="#000" stroke-width="0.9"/>
<circle cx="88.5" cy="176.9" r="3.45" fill="#fff" stroke="#000" stroke-width="0.9"/>
<circle cx="92.6" cy="172.8" r="3.45" fill="#fff" stroke="#000" stroke-width="0.9"/>
<circle cx="96.8" cy="168.7" r="3.45" fill="#fff" stroke="#000" stroke-width="0.9"/>
<circle cx="100.9" cy="164.1" r="3.45" fill="#fff" stroke="#000" stroke-width="0.9"/>
<circle cx="104.8" cy="159.5" r="3.45" fill="#fff" stroke="#000" stroke-width="0.9"/>
<circle cx="109.6" cy="153.9" r="3.45" fill="#fff" stroke="#000" stroke-width="0.9"/>
<circle cx="114.4" cy="148.3" r="3.45" fill="#fff" stroke="#000" stroke-width="0.9"/>
<circle cx="118" cy="145" r="3.45" fill="#fff" stroke="#000" stroke-width="0.9"/>
<circle cx="121" cy="142" r="3.45" fill="#fff" stroke="#000" stroke-width="0.9"/>
<circle cx="124" cy="139" r="3.45" fill="#fff" stroke="#000" stroke-width="0.9"/>
<circle cx="126.4" cy="132.2" r="3.45" fill="#fff" stroke="#000" stroke-width="0.9"/>
<circle cx="130.4" cy="129" r="3.45" fill="#fff" stroke="#000" stroke-width="0.9"/>
<circle cx="134.5" cy="127.4" r="3.45" fill="#fff" stroke="#000" stroke-width="0.9"/>
<circle cx="138.9" cy="124.4" r="3.45" fill="#fff" stroke="#000" stroke-width="0.9"/>
<circle cx="143.3" cy="125.8" r="3.45" fill="#fff" stroke="#000" stroke-width="0.9"/>
<circle cx="146.5" cy="121.8" r="3.45" fill="#fff" stroke="#000" stroke-width="0.9"/>
<circle cx="152.9" cy="122.9" r="3.45" fill="#fff" stroke="#000" stroke-width="0.9"/>
<circle cx="159.3" cy="122.4" r="3.45" fill="#fff" stroke="#000" stroke-width="0.9"/>
<circle cx="164.4" cy="123.1" r="3.45" fill="#fff" stroke="#000" stroke-width="0.9"/>
<circle cx="169.4" cy="120.3" r="3.45" fill="#fff" stroke="#000" stroke-width="0.9"/>
<circle cx="175.8" cy="123.6" r="3.45" fill="#fff" stroke="#000" stroke-width="0.9"/>
<circle cx="180.9" cy="121.1" r="3.45" fill="#fff" stroke="#000" stroke-width="0.9"/>
<circle cx="184.7" cy="122.4" r="3.45" fill="#fff" stroke="#000" stroke-width="0.9"/>
<circle cx="189.8" cy="123.6" r="3.45" fill="#fff" stroke="#000" stroke-width="0.9"/>
<circle cx="194.9" cy="124.4" r="3.45" fill="#fff" stroke="#000" stroke-width="0.9"/>
<circle cx="200" cy="124.9" r="3.45" fill="#fff" stroke="#000" stroke-width="0.9"/>
<circle cx="205" cy="126.2" r="3.45" fill="#fff" stroke="#000" stroke-width="0.9"/>
<circle cx="210.2" cy="127.4" r="3.45" fill="#fff" stroke="#000" stroke-width="0.9"/>
<circle cx="215.2" cy="127.4" r="3.45" fill="#fff" stroke="#000" stroke-width="0.9"/>
<circle cx="220.3" cy="128.2" r="3.45" fill="#fff" stroke="#000" stroke-width="0.9"/>
<circle cx="225.4" cy="128.7" r="3.45" fill="#fff" stroke="#000" stroke-width="0.9"/>
<circle cx="230.5" cy="129.5" r="3.45" fill="#fff" stroke="#000" stroke-width="0.9"/>
<circle cx="235.6" cy="130" r="3.45" fill="#fff" stroke="#000" stroke-width="0.9"/>
<circle cx="240.7" cy="130.8" r="3.45" fill="#fff" stroke="#000" stroke-width="0.9"/>
<circle cx="245" cy="131.8" r="3.45" fill="#fff" stroke="#000" stroke-width="0.9"/>
<rect x="76.75" y="167.95" width="6.3" height="6.3" fill="#fff" stroke="#000" stroke-width="0.9"/>
<rect x="80.85" y="163.85" width="6.3" height="6.3" fill="#fff" stroke="#000" stroke-width="0.9"/>
<rect x="84.85" y="159.85" width="6.3" height="6.3" fill="#fff" stroke="#000" stroke-width="0.9"/>
<rect x="88.45" y="158.35" width="6.3" height="6.3" fill="#fff" stroke="#000" stroke-width="0.9"/>
<rect x="93.65" y="155.25" width="6.3" height="6.3" fill="#fff" stroke="#000" stroke-width="0.9"/>
<rect x="96.85" y="148.85" width="6.3" height="6.3" fill="#fff" stroke="#000" stroke-width="0.9"/>
<rect x="102.45" y="142.75" width="6.3" height="6.3" fill="#fff" stroke="#000" stroke-width="0.9"/>
<rect x="106.45" y="145.15" width="6.3" height="6.3" fill="#fff" stroke="#000" stroke-width="0.9"/>
<rect x="109.05" y="136.85" width="6.3" height="6.3" fill="#fff" stroke="#000" stroke-width="0.9"/>
<rect x="110.95" y="133.95" width="6.3" height="6.3" fill="#fff" stroke="#000" stroke-width="0.9"/>
<rect x="114.45" y="135.55" width="6.3" height="6.3" fill="#fff" stroke="#000" stroke-width="0.9"/>
<rect x="118.45" y="131.45" width="6.3" height="6.3" fill="#fff" stroke="#000" stroke-width="0.9"/>
<rect x="119.25" y="135.55" width="6.3" height="6.3" fill="#fff" stroke="#000" stroke-width="0.9"/>
<rect x="123.25" y="127.45" width="6.3" height="6.3" fill="#fff" stroke="#000" stroke-width="0.9"/>
<rect x="127.35" y="127.85" width="6.3" height="6.3" fill="#fff" stroke="#000" stroke-width="0.9"/>
<rect x="130.65" y="130.65" width="6.3" height="6.3" fill="#fff" stroke="#000" stroke-width="0.9"/>
<rect x="137.05" y="125.55" width="6.3" height="6.3" fill="#fff" stroke="#000" stroke-width="0.9"/>
<rect x="139.85" y="127.85" width="6.3" height="6.3" fill="#fff" stroke="#000" stroke-width="0.9"/>
<rect x="144.65" y="129.35" width="6.3" height="6.3" fill="#fff" stroke="#000" stroke-width="0.9"/>
<rect x="148.35" y="129.85" width="6.3" height="6.3" fill="#fff" stroke="#000" stroke-width="0.9"/>
<rect x="152.25" y="130.65" width="6.3" height="6.3" fill="#fff" stroke="#000" stroke-width="0.9"/>
<rect x="155.85" y="130.85" width="6.3" height="6.3" fill="#fff" stroke="#000" stroke-width="0.9"/>
<rect x="159.85" y="130.65" width="6.3" height="6.3" fill="#fff" stroke="#000" stroke-width="0.9"/>
<rect x="165.05" y="134.45" width="6.3" height="6.3" fill="#fff" stroke="#000" stroke-width="0.9"/>
<rect x="171.35" y="140.85" width="6.3" height="6.3" fill="#fff" stroke="#000" stroke-width="0.9"/>
<rect x="177.75" y="135.75" width="6.3" height="6.3" fill="#fff" stroke="#000" stroke-width="0.9"/>
<rect x="181.55" y="139.55" width="6.3" height="6.3" fill="#fff" stroke="#000" stroke-width="0.9"/>
<rect x="186.65" y="142.15" width="6.3" height="6.3" fill="#fff" stroke="#000" stroke-width="0.9"/>
<rect x="191.75" y="144.65" width="6.3" height="6.3" fill="#fff" stroke="#000" stroke-width="0.9"/>
<rect x="196.85" y="145.95" width="6.3" height="6.3" fill="#fff" stroke="#000" stroke-width="0.9"/>
<rect x="201.85" y="149.75" width="6.3" height="6.3" fill="#fff" stroke="#000" stroke-width="0.9"/>
<rect x="207.05" y="154.85" width="6.3" height="6.3" fill="#fff" stroke="#000" stroke-width="0.9"/>
<rect x="212.05" y="152.25" width="6.3" height="6.3" fill="#fff" stroke="#000" stroke-width="0.9"/>
<rect x="217.15" y="153.55" width="6.3" height="6.3" fill="#fff" stroke="#000" stroke-width="0.9"/>
<rect x="220.85" y="155.85" width="6.3" height="6.3" fill="#fff" stroke="#000" stroke-width="0.9"/>
<rect x="224.85" y="157.85" width="6.3" height="6.3" fill="#fff" stroke="#000" stroke-width="0.9"/>
<rect x="231.15" y="158.65" width="6.3" height="6.3" fill="#fff" stroke="#000" stroke-width="0.9"/>
<rect x="236.25" y="159.95" width="6.3" height="6.3" fill="#fff" stroke="#000" stroke-width="0.9"/>
<rect x="241.85" y="159.95" width="6.3" height="6.3" fill="#fff" stroke="#000" stroke-width="0.9"/>
<circle cx="336.8" cy="169.2" r="3.4" fill="#fff" stroke="#000" stroke-width="0.9"/>
<circle cx="347.2" cy="162" r="3.4" fill="#fff" stroke="#000" stroke-width="0.9"/>
<circle cx="350.5" cy="163.5" r="3.4" fill="#fff" stroke="#000" stroke-width="0.9"/>
<circle cx="352.5" cy="160.5" r="3.4" fill="#fff" stroke="#000" stroke-width="0.9"/>
<circle cx="355" cy="156.37" r="3.4" fill="#fff" stroke="#000" stroke-width="0.9"/>
<circle cx="357.6" cy="155.62" r="3.4" fill="#fff" stroke="#000" stroke-width="0.9"/>
<circle cx="360.2" cy="153.71" r="3.4" fill="#fff" stroke="#000" stroke-width="0.9"/>
<circle cx="362.8" cy="152.69" r="3.4" fill="#fff" stroke="#000" stroke-width="0.9"/>
<circle cx="365.4" cy="151.01" r="3.4" fill="#fff" stroke="#000" stroke-width="0.9"/>
<circle cx="368" cy="147.64" r="3.4" fill="#fff" stroke="#000" stroke-width="0.9"/>
<circle cx="370.6" cy="145.32" r="3.4" fill="#fff" stroke="#000" stroke-width="0.9"/>
<circle cx="373.2" cy="145.16" r="3.4" fill="#fff" stroke="#000" stroke-width="0.9"/>
<circle cx="375.8" cy="141.88" r="3.4" fill="#fff" stroke="#000" stroke-width="0.9"/>
<circle cx="378.4" cy="140.14" r="3.4" fill="#fff" stroke="#000" stroke-width="0.9"/>
<circle cx="381" cy="140.42" r="3.4" fill="#fff" stroke="#000" stroke-width="0.9"/>
<circle cx="383.6" cy="137.7" r="3.4" fill="#fff" stroke="#000" stroke-width="0.9"/>
<circle cx="386.2" cy="137.16" r="3.4" fill="#fff" stroke="#000" stroke-width="0.9"/>
<circle cx="388.8" cy="134.97" r="3.4" fill="#fff" stroke="#000" stroke-width="0.9"/>
<circle cx="391.4" cy="134.09" r="3.4" fill="#fff" stroke="#000" stroke-width="0.9"/>
<circle cx="394" cy="131.66" r="3.4" fill="#fff" stroke="#000" stroke-width="0.9"/>
<circle cx="396.6" cy="131.49" r="3.4" fill="#fff" stroke="#000" stroke-width="0.9"/>
<circle cx="399.2" cy="130.66" r="3.4" fill="#fff" stroke="#000" stroke-width="0.9"/>
<circle cx="401.8" cy="128.48" r="3.4" fill="#fff" stroke="#000" stroke-width="0.9"/>
<circle cx="404.4" cy="127.82" r="3.4" fill="#fff" stroke="#000" stroke-width="0.9"/>
<circle cx="407" cy="126.75" r="3.4" fill="#fff" stroke="#000" stroke-width="0.9"/>
<circle cx="409.6" cy="124.61" r="3.4" fill="#fff" stroke="#000" stroke-width="0.9"/>
<circle cx="412.2" cy="125.71" r="3.4" fill="#fff" stroke="#000" stroke-width="0.9"/>
<circle cx="414.8" cy="124.76" r="3.4" fill="#fff" stroke="#000" stroke-width="0.9"/>
<circle cx="417.4" cy="123.5" r="3.4" fill="#fff" stroke="#000" stroke-width="0.9"/>
<circle cx="420" cy="122.31" r="3.4" fill="#fff" stroke="#000" stroke-width="0.9"/>
<circle cx="422.6" cy="123.81" r="3.4" fill="#fff" stroke="#000" stroke-width="0.9"/>
<circle cx="425.2" cy="122.4" r="3.4" fill="#fff" stroke="#000" stroke-width="0.9"/>
<circle cx="427.8" cy="122.57" r="3.4" fill="#fff" stroke="#000" stroke-width="0.9"/>
<circle cx="430.4" cy="122.57" r="3.4" fill="#fff" stroke="#000" stroke-width="0.9"/>
<circle cx="433" cy="121.8" r="3.4" fill="#fff" stroke="#000" stroke-width="0.9"/>
<circle cx="362" cy="152.47" r="3.4" fill="#fff" stroke="#000" stroke-width="0.9"/>
<circle cx="365.3" cy="150.6" r="3.4" fill="#fff" stroke="#000" stroke-width="0.9"/>
<circle cx="368.6" cy="149.56" r="3.4" fill="#fff" stroke="#000" stroke-width="0.9"/>
<circle cx="371.9" cy="147.36" r="3.4" fill="#fff" stroke="#000" stroke-width="0.9"/>
<circle cx="375.2" cy="145.25" r="3.4" fill="#fff" stroke="#000" stroke-width="0.9"/>
<circle cx="378.5" cy="143.87" r="3.4" fill="#fff" stroke="#000" stroke-width="0.9"/>
<circle cx="381.8" cy="142.95" r="3.4" fill="#fff" stroke="#000" stroke-width="0.9"/>
<circle cx="385.1" cy="141.01" r="3.4" fill="#fff" stroke="#000" stroke-width="0.9"/>
<circle cx="388.4" cy="139.36" r="3.4" fill="#fff" stroke="#000" stroke-width="0.9"/>
<circle cx="391.7" cy="136.6" r="3.4" fill="#fff" stroke="#000" stroke-width="0.9"/>
<circle cx="395" cy="135.27" r="3.4" fill="#fff" stroke="#000" stroke-width="0.9"/>
<circle cx="398.3" cy="132.63" r="3.4" fill="#fff" stroke="#000" stroke-width="0.9"/>
<circle cx="401.6" cy="130.55" r="3.4" fill="#fff" stroke="#000" stroke-width="0.9"/>
<circle cx="404.9" cy="128.96" r="3.4" fill="#fff" stroke="#000" stroke-width="0.9"/>
<circle cx="408.2" cy="128" r="3.4" fill="#fff" stroke="#000" stroke-width="0.9"/>
<circle cx="411.5" cy="128.48" r="3.4" fill="#fff" stroke="#000" stroke-width="0.9"/>
<circle cx="414.8" cy="127.53" r="3.4" fill="#fff" stroke="#000" stroke-width="0.9"/>
<circle cx="418.1" cy="126.95" r="3.4" fill="#fff" stroke="#000" stroke-width="0.9"/>
<circle cx="421.4" cy="126.63" r="3.4" fill="#fff" stroke="#000" stroke-width="0.9"/>
<circle cx="424.7" cy="125.42" r="3.4" fill="#fff" stroke="#000" stroke-width="0.9"/>
<circle cx="428" cy="125.91" r="3.4" fill="#fff" stroke="#000" stroke-width="0.9"/>
<circle cx="431.3" cy="126.89" r="3.4" fill="#fff" stroke="#000" stroke-width="0.9"/>
<circle cx="433.4" cy="127.1" r="3.4" fill="#fff" stroke="#000" stroke-width="0.9"/>
<circle cx="439" cy="123.3" r="3.4" fill="#fff" stroke="#000" stroke-width="0.9"/>
<circle cx="443.5" cy="121.7" r="3.4" fill="#fff" stroke="#000" stroke-width="0.9"/>
<circle cx="448" cy="122.6" r="3.4" fill="#fff" stroke="#000" stroke-width="0.9"/>
<circle cx="452.4" cy="122.6" r="3.4" fill="#fff" stroke="#000" stroke-width="0.9"/>
<circle cx="456.9" cy="122.2" r="3.4" fill="#fff" stroke="#000" stroke-width="0.9"/>
<circle cx="460.5" cy="121" r="3.4" fill="#fff" stroke="#000" stroke-width="0.9"/>
<circle cx="463.7" cy="119.5" r="3.4" fill="#fff" stroke="#000" stroke-width="0.9"/>
<circle cx="467" cy="122.2" r="3.4" fill="#fff" stroke="#000" stroke-width="0.9"/>
<circle cx="471.5" cy="123.3" r="3.4" fill="#fff" stroke="#000" stroke-width="0.9"/>
<circle cx="476" cy="124.4" r="3.4" fill="#fff" stroke="#000" stroke-width="0.9"/>
<circle cx="480.5" cy="126.2" r="3.4" fill="#fff" stroke="#000" stroke-width="0.9"/>
<circle cx="485" cy="126.2" r="3.4" fill="#fff" stroke="#000" stroke-width="0.9"/>
<circle cx="489.5" cy="126.7" r="3.4" fill="#fff" stroke="#000" stroke-width="0.9"/>
<circle cx="495.1" cy="127.8" r="3.4" fill="#fff" stroke="#000" stroke-width="0.9"/>
<circle cx="499.6" cy="126.2" r="3.4" fill="#fff" stroke="#000" stroke-width="0.9"/>
<circle cx="504.1" cy="125.6" r="3.4" fill="#fff" stroke="#000" stroke-width="0.9"/>
<circle cx="507.4" cy="127.1" r="3.4" fill="#fff" stroke="#000" stroke-width="0.9"/>
<circle cx="511.9" cy="128.5" r="3.4" fill="#fff" stroke="#000" stroke-width="0.9"/>
<circle cx="516.4" cy="129.4" r="3.4" fill="#fff" stroke="#000" stroke-width="0.9"/>
<circle cx="520.9" cy="131.2" r="3.4" fill="#fff" stroke="#000" stroke-width="0.9"/>
<rect x="333.65" y="156.65" width="6.3" height="6.3" fill="#fff" stroke="#000" stroke-width="0.9"/>
<rect x="343.85" y="152.85" width="6.3" height="6.3" fill="#fff" stroke="#000" stroke-width="0.9"/>
<rect x="347.85" y="158.35" width="6.3" height="6.3" fill="#fff" stroke="#000" stroke-width="0.9"/>
<rect x="348.85" y="151.85" width="6.3" height="6.3" fill="#fff" stroke="#000" stroke-width="0.9"/>
<rect x="351.85" y="153.85" width="6.3" height="6.3" fill="#fff" stroke="#000" stroke-width="0.9"/>
<rect x="352.85" y="155.22" width="6.3" height="6.3" fill="#fff" stroke="#000" stroke-width="0.9"/>
<rect x="355.85" y="153.57" width="6.3" height="6.3" fill="#fff" stroke="#000" stroke-width="0.9"/>
<rect x="358.85" y="151.82" width="6.3" height="6.3" fill="#fff" stroke="#000" stroke-width="0.9"/>
<rect x="361.85" y="150.73" width="6.3" height="6.3" fill="#fff" stroke="#000" stroke-width="0.9"/>
<rect x="364.85" y="149.04" width="6.3" height="6.3" fill="#fff" stroke="#000" stroke-width="0.9"/>
<rect x="367.85" y="148.82" width="6.3" height="6.3" fill="#fff" stroke="#000" stroke-width="0.9"/>
<rect x="370.85" y="145.64" width="6.3" height="6.3" fill="#fff" stroke="#000" stroke-width="0.9"/>
<rect x="373.85" y="146.74" width="6.3" height="6.3" fill="#fff" stroke="#000" stroke-width="0.9"/>
<rect x="376.85" y="148.18" width="6.3" height="6.3" fill="#fff" stroke="#000" stroke-width="0.9"/>
<rect x="379.85" y="147.5" width="6.3" height="6.3" fill="#fff" stroke="#000" stroke-width="0.9"/>
<rect x="382.85" y="148.66" width="6.3" height="6.3" fill="#fff" stroke="#000" stroke-width="0.9"/>
<rect x="385.85" y="146.96" width="6.3" height="6.3" fill="#fff" stroke="#000" stroke-width="0.9"/>
<rect x="388.85" y="149.16" width="6.3" height="6.3" fill="#fff" stroke="#000" stroke-width="0.9"/>
<rect x="391.85" y="149.46" width="6.3" height="6.3" fill="#fff" stroke="#000" stroke-width="0.9"/>
<rect x="394.85" y="150.34" width="6.3" height="6.3" fill="#fff" stroke="#000" stroke-width="0.9"/>
<rect x="397.85" y="149.66" width="6.3" height="6.3" fill="#fff" stroke="#000" stroke-width="0.9"/>
<rect x="400.85" y="147.39" width="6.3" height="6.3" fill="#fff" stroke="#000" stroke-width="0.9"/>
<rect x="403.85" y="148.04" width="6.3" height="6.3" fill="#fff" stroke="#000" stroke-width="0.9"/>
<rect x="406.85" y="148.49" width="6.3" height="6.3" fill="#fff" stroke="#000" stroke-width="0.9"/>
<rect x="410.85" y="142.85" width="6.3" height="6.3" fill="#fff" stroke="#000" stroke-width="0.9"/>
<rect x="414.85" y="144.85" width="6.3" height="6.3" fill="#fff" stroke="#000" stroke-width="0.9"/>
<rect x="418.85" y="146.85" width="6.3" height="6.3" fill="#fff" stroke="#000" stroke-width="0.9"/>
<rect x="422.85" y="149.85" width="6.3" height="6.3" fill="#fff" stroke="#000" stroke-width="0.9"/>
<rect x="429.85" y="151.35" width="6.3" height="6.3" fill="#fff" stroke="#000" stroke-width="0.9"/>
<rect x="439.85" y="142.65" width="6.3" height="6.3" fill="#fff" stroke="#000" stroke-width="0.9"/>
<rect x="442.55" y="147.05" width="6.3" height="6.3" fill="#fff" stroke="#000" stroke-width="0.9"/>
<rect x="447.05" y="147.75" width="6.3" height="6.3" fill="#fff" stroke="#000" stroke-width="0.9"/>
<rect x="451.55" y="147.75" width="6.3" height="6.3" fill="#fff" stroke="#000" stroke-width="0.9"/>
<rect x="456.05" y="148.25" width="6.3" height="6.3" fill="#fff" stroke="#000" stroke-width="0.9"/>
<rect x="460.55" y="145.95" width="6.3" height="6.3" fill="#fff" stroke="#000" stroke-width="0.9"/>
<rect x="462.75" y="149.35" width="6.3" height="6.3" fill="#fff" stroke="#000" stroke-width="0.9"/>
<rect x="466.15" y="151.55" width="6.3" height="6.3" fill="#fff" stroke="#000" stroke-width="0.9"/>
<rect x="470.65" y="153.85" width="6.3" height="6.3" fill="#fff" stroke="#000" stroke-width="0.9"/>
<rect x="475.15" y="156.05" width="6.3" height="6.3" fill="#fff" stroke="#000" stroke-width="0.9"/>
<rect x="480.75" y="153.85" width="6.3" height="6.3" fill="#fff" stroke="#000" stroke-width="0.9"/>
<rect x="486.35" y="157.65" width="6.3" height="6.3" fill="#fff" stroke="#000" stroke-width="0.9"/>
<rect x="489.65" y="163.95" width="6.3" height="6.3" fill="#fff" stroke="#000" stroke-width="0.9"/>
<rect x="494.15" y="163.95" width="6.3" height="6.3" fill="#fff" stroke="#000" stroke-width="0.9"/>
<rect x="498.65" y="162.85" width="6.3" height="6.3" fill="#fff" stroke="#000" stroke-width="0.9"/>
<rect x="504.25" y="161.65" width="6.3" height="6.3" fill="#fff" stroke="#000" stroke-width="0.9"/>
<rect x="507.65" y="165.05" width="6.3" height="6.3" fill="#fff" stroke="#000" stroke-width="0.9"/>
<rect x="512.15" y="166.15" width="6.3" height="6.3" fill="#fff" stroke="#000" stroke-width="0.9"/>
<rect x="517.75" y="168.85" width="6.3" height="6.3" fill="#fff" stroke="#000" stroke-width="0.9"/>
<circle cx="68.4" cy="117.4" r="3.3" fill="#fff" stroke="#000" stroke-width="0.9"/>
<rect x="65.4" y="128.1" width="6.2" height="6.2" fill="#fff" stroke="#000" stroke-width="0.9"/>
<circle cx="448" cy="174.9" r="3.3" fill="#fff" stroke="#000" stroke-width="0.9"/>
<rect x="444.9" y="185.3" width="6.2" height="6.2" fill="#fff" stroke="#000" stroke-width="0.9"/>
<g font-family='"Liberation Sans", sans-serif' fill="#111">
<text x="83.4" y="119.5" font-size="8.5">G</text><text x="90.01" y="119.5" font-size="8.5">'</text><text x="90.01" y="121.9" font-size="6.5">31</text><text x="97.24" y="119.5" font-size="8.5">/IG*I</text>
<text x="83.4" y="133.6" font-size="8.5">G</text><text x="90.01" y="133.6" font-size="8.5">"</text><text x="90.01" y="136" font-size="6.5">31</text><text x="97.24" y="133.6" font-size="8.5">/IG*I</text>
<text x="462.6" y="177.3" font-size="8.5">G</text><text x="469.21" y="177.3" font-size="8.5">'</text><text x="469.21" y="179.7" font-size="6.5">31</text><text x="476.44" y="177.3" font-size="8.5">/IG*I</text>
<text x="462.6" y="190.8" font-size="8.5">G</text><text x="469.21" y="190.8" font-size="8.5">"</text><text x="469.21" y="193.2" font-size="6.5">31</text><text x="476.44" y="190.8" font-size="8.5">/IG*I</text>
</g>
</g>
<g clip-path="url(#c2)">
<rect x="77.5" y="276.9" width="6.2" height="6.2" fill="#fff" stroke="#000" stroke-width="0.9"/>
<rect x="81.6" y="271.8" width="6.2" height="6.2" fill="#fff" stroke="#000" stroke-width="0.9"/>
<rect x="85.8" y="266.8" width="6.2" height="6.2" fill="#fff" stroke="#000" stroke-width="0.9"/>
<rect x="89.9" y="264.9" width="6.2" height="6.2" fill="#fff" stroke="#000" stroke-width="0.9"/>
<rect x="93.9" y="265.9" width="6.2" height="6.2" fill="#fff" stroke="#000" stroke-width="0.9"/>
<circle cx="80.6" cy="269.9" r="3.4" fill="#fff" stroke="#000" stroke-width="0.9"/>
<circle cx="84.7" cy="264.6" r="3.4" fill="#fff" stroke="#000" stroke-width="0.9"/>
<circle cx="88.8" cy="258.7" r="3.4" fill="#fff" stroke="#000" stroke-width="0.9"/>
<circle cx="93" cy="250.4" r="3.4" fill="#fff" stroke="#000" stroke-width="0.9"/>
<circle cx="97" cy="244" r="3.4" fill="#fff" stroke="#000" stroke-width="0.9"/>
<circle cx="101" cy="238" r="3.4" fill="#fff" stroke="#000" stroke-width="0.9"/>
<circle cx="105" cy="234" r="3.4" fill="#fff" stroke="#000" stroke-width="0.9"/>
<circle cx="109" cy="231" r="3.4" fill="#fff" stroke="#000" stroke-width="0.9"/>
<circle cx="113" cy="230.5" r="3.4" fill="#fff" stroke="#000" stroke-width="0.9"/>
<circle cx="116" cy="229.5" r="3.4" fill="#fff" stroke="#000" stroke-width="0.9"/>
<circle cx="118" cy="232" r="3.4" fill="#fff" stroke="#000" stroke-width="0.9"/>
<circle cx="121.8" cy="234" r="3.4" fill="#fff" stroke="#000" stroke-width="0.9"/>
<circle cx="121.8" cy="239.5" r="3.4" fill="#fff" stroke="#000" stroke-width="0.9"/>
<circle cx="125.9" cy="246.3" r="3.4" fill="#fff" stroke="#000" stroke-width="0.9"/>
<circle cx="131" cy="259" r="3.4" fill="#fff" stroke="#000" stroke-width="0.9"/>
<circle cx="134.4" cy="243.7" r="3.6" fill="#ff0000" stroke="#300" stroke-width="0.7"/>
<circle cx="134.4" cy="250.9" r="3.6" fill="#ff0000" stroke="#300" stroke-width="0.7"/>
<circle cx="138.9" cy="231.4" r="3.6" fill="#ff0000" stroke="#300" stroke-width="0.7"/>
<circle cx="142.9" cy="225.1" r="3.6" fill="#ff0000" stroke="#300" stroke-width="0.7"/>
<circle cx="147.8" cy="220.6" r="3.6" fill="#ff0000" stroke="#300" stroke-width="0.7"/>
<circle cx="151" cy="219.5" r="3.6" fill="#ff0000" stroke="#300" stroke-width="0.7"/>
<circle cx="154.6" cy="218.4" r="3.6" fill="#ff0000" stroke="#300" stroke-width="0.7"/>
<circle cx="159" cy="218.4" r="3.6" fill="#ff0000" stroke="#300" stroke-width="0.7"/>
<circle cx="163.5" cy="218.8" r="3.6" fill="#ff0000" stroke="#300" stroke-width="0.7"/>
<circle cx="167" cy="218.3" r="3.6" fill="#ff0000" stroke="#300" stroke-width="0.7"/>
<circle cx="171" cy="218" r="3.6" fill="#ff0000" stroke="#300" stroke-width="0.7"/>
<circle cx="175" cy="217.2" r="3.6" fill="#ff0000" stroke="#300" stroke-width="0.7"/>
<circle cx="180" cy="220" r="3.6" fill="#ff0000" stroke="#300" stroke-width="0.7"/>
<circle cx="184" cy="216.8" r="3.6" fill="#ff0000" stroke="#300" stroke-width="0.7"/>
<circle cx="187" cy="217.5" r="3.6" fill="#ff0000" stroke="#300" stroke-width="0.7"/>
<circle cx="190" cy="218" r="3.6" fill="#ff0000" stroke="#300" stroke-width="0.7"/>
<circle cx="193" cy="218.5" r="3.6" fill="#ff0000" stroke="#300" stroke-width="0.7"/>
<circle cx="196" cy="218.7" r="3.6" fill="#ff0000" stroke="#300" stroke-width="0.7"/>
<circle cx="200" cy="219" r="3.6" fill="#ff0000" stroke="#300" stroke-width="0.7"/>
<circle cx="204" cy="219.2" r="3.6" fill="#ff0000" stroke="#300" stroke-width="0.7"/>
<circle cx="208" cy="219.3" r="3.6" fill="#ff0000" stroke="#300" stroke-width="0.7"/>
<circle cx="212" cy="219.5" r="3.6" fill="#ff0000" stroke="#300" stroke-width="0.7"/>
<circle cx="216" cy="219.6" r="3.6" fill="#ff0000" stroke="#300" stroke-width="0.7"/>
<circle cx="220" cy="220" r="3.6" fill="#ff0000" stroke="#300" stroke-width="0.7"/>
<circle cx="224" cy="220.6" r="3.6" fill="#ff0000" stroke="#300" stroke-width="0.7"/>
<circle cx="228" cy="221.2" r="3.6" fill="#ff0000" stroke="#300" stroke-width="0.7"/>
<circle cx="232" cy="221.6" r="3.6" fill="#ff0000" stroke="#300" stroke-width="0.7"/>
<circle cx="236" cy="221.8" r="3.6" fill="#ff0000" stroke="#300" stroke-width="0.7"/>
<circle cx="240" cy="222.2" r="3.6" fill="#ff0000" stroke="#300" stroke-width="0.7"/>
<circle cx="244" cy="223" r="3.6" fill="#ff0000" stroke="#300" stroke-width="0.7"/>
<circle cx="249" cy="224.5" r="3.6" fill="#ff0000" stroke="#300" stroke-width="0.7"/>
<rect x="102.5" y="258.9" width="6.4" height="6.4" fill="#0a0aff" stroke="#000" stroke-width="0.8"/>
<rect x="106.3" y="249.8" width="6.4" height="6.4" fill="#0a0aff" stroke="#000" stroke-width="0.8"/>
<rect x="106.8" y="240.8" width="6.4" height="6.4" fill="#0a0aff" stroke="#000" stroke-width="0.8"/>
<rect x="110.8" y="236.8" width="6.4" height="6.4" fill="#0a0aff" stroke="#000" stroke-width="0.8"/>
<rect x="110.8" y="227.8" width="6.4" height="6.4" fill="#0a0aff" stroke="#000" stroke-width="0.8"/>
<rect x="114.8" y="226.8" width="6.4" height="6.4" fill="#0a0aff" stroke="#000" stroke-width="0.8"/>
<rect x="118.6" y="223.2" width="6.4" height="6.4" fill="#0a0aff" stroke="#000" stroke-width="0.8"/>
<rect x="118.4" y="217.4" width="6.4" height="6.4" fill="#0a0aff" stroke="#000" stroke-width="0.8"/>
<rect x="122.8" y="216.4" width="6.4" height="6.4" fill="#0a0aff" stroke="#000" stroke-width="0.8"/>
<rect x="127.3" y="215.3" width="6.4" height="6.4" fill="#0a0aff" stroke="#000" stroke-width="0.8"/>
<rect x="131.8" y="214.8" width="6.4" height="6.4" fill="#0a0aff" stroke="#000" stroke-width="0.8"/>
<rect x="136.4" y="215.7" width="6.4" height="6.4" fill="#0a0aff" stroke="#000" stroke-width="0.8"/>
<rect x="140.6" y="216.8" width="6.4" height="6.4" fill="#0a0aff" stroke="#000" stroke-width="0.8"/>
<rect x="139.2" y="222.5" width="6.4" height="6.4" fill="#0a0aff" stroke="#000" stroke-width="0.8"/>
<rect x="144.3" y="219.8" width="6.4" height="6.4" fill="#0a0aff" stroke="#000" stroke-width="0.8"/>
<rect x="148.8" y="221.3" width="6.4" height="6.4" fill="#0a0aff" stroke="#000" stroke-width="0.8"/>
<rect x="153.4" y="223.2" width="6.4" height="6.4" fill="#0a0aff" stroke="#000" stroke-width="0.8"/>
<rect x="156.8" y="223.8" width="6.4" height="6.4" fill="#0a0aff" stroke="#000" stroke-width="0.8"/>
<rect x="159.8" y="225.3" width="6.4" height="6.4" fill="#0a0aff" stroke="#000" stroke-width="0.8"/>
<rect x="162.8" y="227.3" width="6.4" height="6.4" fill="#0a0aff" stroke="#000" stroke-width="0.8"/>
<rect x="165.8" y="229.8" width="6.4" height="6.4" fill="#0a0aff" stroke="#000" stroke-width="0.8"/>
<rect x="168.8" y="233.5" width="6.4" height="6.4" fill="#0a0aff" stroke="#000" stroke-width="0.8"/>
<rect x="171.8" y="234.8" width="6.4" height="6.4" fill="#0a0aff" stroke="#000" stroke-width="0.8"/>
<rect x="174.8" y="236.3" width="6.4" height="6.4" fill="#0a0aff" stroke="#000" stroke-width="0.8"/>
<rect x="177.8" y="241.8" width="6.4" height="6.4" fill="#0a0aff" stroke="#000" stroke-width="0.8"/>
<rect x="181.8" y="239.8" width="6.4" height="6.4" fill="#0a0aff" stroke="#000" stroke-width="0.8"/>
<rect x="185.8" y="242.8" width="6.4" height="6.4" fill="#0a0aff" stroke="#000" stroke-width="0.8"/>
<rect x="189.8" y="244.3" width="6.4" height="6.4" fill="#0a0aff" stroke="#000" stroke-width="0.8"/>
<rect x="193.8" y="245.8" width="6.4" height="6.4" fill="#0a0aff" stroke="#000" stroke-width="0.8"/>
<rect x="197.8" y="247.3" width="6.4" height="6.4" fill="#0a0aff" stroke="#000" stroke-width="0.8"/>
<rect x="202.8" y="247.8" width="6.4" height="6.4" fill="#0a0aff" stroke="#000" stroke-width="0.8"/>
<rect x="206.8" y="251.8" width="6.4" height="6.4" fill="#0a0aff" stroke="#000" stroke-width="0.8"/>
<rect x="210.8" y="252.8" width="6.4" height="6.4" fill="#0a0aff" stroke="#000" stroke-width="0.8"/>
<rect x="214.8" y="255.8" width="6.4" height="6.4" fill="#0a0aff" stroke="#000" stroke-width="0.8"/>
<rect x="218.8" y="258.8" width="6.4" height="6.4" fill="#0a0aff" stroke="#000" stroke-width="0.8"/>
<rect x="223.8" y="262.8" width="6.4" height="6.4" fill="#0a0aff" stroke="#000" stroke-width="0.8"/>
<rect x="228.8" y="264.8" width="6.4" height="6.4" fill="#0a0aff" stroke="#000" stroke-width="0.8"/>
<rect x="232.8" y="271.4" width="6.4" height="6.4" fill="#0a0aff" stroke="#000" stroke-width="0.8"/>
<rect x="236.8" y="275.6" width="6.4" height="6.4" fill="#0a0aff" stroke="#000" stroke-width="0.8"/>
<circle cx="338.5" cy="260.6" r="3.4" fill="#fff" stroke="#000" stroke-width="0.9"/>
<circle cx="348" cy="249" r="3.4" fill="#fff" stroke="#000" stroke-width="0.9"/>
<circle cx="350" cy="247" r="3.4" fill="#fff" stroke="#000" stroke-width="0.9"/>
<circle cx="352" cy="246" r="3.4" fill="#fff" stroke="#000" stroke-width="0.9"/>
<circle cx="354" cy="246.5" r="3.4" fill="#fff" stroke="#000" stroke-width="0.9"/>
<circle cx="356" cy="243" r="3.4" fill="#fff" stroke="#000" stroke-width="0.9"/>
<circle cx="358" cy="240" r="3.4" fill="#fff" stroke="#000" stroke-width="0.9"/>
<circle cx="360" cy="244" r="3.4" fill="#fff" stroke="#000" stroke-width="0.9"/>
<circle cx="363" cy="238" r="3.4" fill="#fff" stroke="#000" stroke-width="0.9"/>
<circle cx="366" cy="241" r="3.4" fill="#fff" stroke="#000" stroke-width="0.9"/>
<circle cx="370" cy="242" r="3.4" fill="#fff" stroke="#000" stroke-width="0.9"/>
<circle cx="376" cy="237.5" r="3.4" fill="#fff" stroke="#000" stroke-width="0.9"/>
<circle cx="383" cy="248.5" r="3.4" fill="#fff" stroke="#000" stroke-width="0.9"/>
<circle cx="388" cy="250" r="3.4" fill="#fff" stroke="#000" stroke-width="0.9"/>
<circle cx="397" cy="281.5" r="3.6" fill="#ff0000" stroke="#300" stroke-width="0.7"/>
<circle cx="400.5" cy="255.6" r="3.6" fill="#ff0000" stroke="#300" stroke-width="0.7"/>
<circle cx="404" cy="244" r="3.6" fill="#ff0000" stroke="#300" stroke-width="0.7"/>
<circle cx="407" cy="235.5" r="3.6" fill="#ff0000" stroke="#300" stroke-width="0.7"/>
<circle cx="411.5" cy="235" r="3.6" fill="#ff0000" stroke="#300" stroke-width="0.7"/>
<circle cx="411" cy="230" r="3.6" fill="#ff0000" stroke="#300" stroke-width="0.7"/>
<circle cx="417" cy="230" r="3.6" fill="#ff0000" stroke="#300" stroke-width="0.7"/>
<circle cx="414.5" cy="225" r="3.6" fill="#ff0000" stroke="#300" stroke-width="0.7"/>
<circle cx="423" cy="225.1" r="3.6" fill="#ff0000" stroke="#300" stroke-width="0.7"/>
<circle cx="431" cy="216.5" r="3.6" fill="#ff0000" stroke="#300" stroke-width="0.7"/>
<circle cx="433.5" cy="214.5" r="3.6" fill="#ff0000" stroke="#300" stroke-width="0.7"/>
<circle cx="436" cy="215.29" r="3.6" fill="#ff0000" stroke="#300" stroke-width="0.7"/>
<circle cx="439.4" cy="215.76" r="3.6" fill="#ff0000" stroke="#300" stroke-width="0.7"/>
<circle cx="442.8" cy="216.4" r="3.6" fill="#ff0000" stroke="#300" stroke-width="0.7"/>
<circle cx="446.2" cy="215.6" r="3.6" fill="#ff0000" stroke="#300" stroke-width="0.7"/>
<circle cx="449.6" cy="216.06" r="3.6" fill="#ff0000" stroke="#300" stroke-width="0.7"/>
<circle cx="453" cy="215.54" r="3.6" fill="#ff0000" stroke="#300" stroke-width="0.7"/>
<circle cx="456.4" cy="214.83" r="3.6" fill="#ff0000" stroke="#300" stroke-width="0.7"/>
<circle cx="459.8" cy="215.03" r="3.6" fill="#ff0000" stroke="#300" stroke-width="0.7"/>
<circle cx="463.2" cy="214.44" r="3.6" fill="#ff0000" stroke="#300" stroke-width="0.7"/>
<circle cx="466.6" cy="214.92" r="3.6" fill="#ff0000" stroke="#300" stroke-width="0.7"/>
<circle cx="470" cy="214.48" r="3.6" fill="#ff0000" stroke="#300" stroke-width="0.7"/>
<circle cx="473.4" cy="214.68" r="3.6" fill="#ff0000" stroke="#300" stroke-width="0.7"/>
<circle cx="476.8" cy="215.25" r="3.6" fill="#ff0000" stroke="#300" stroke-width="0.7"/>
<circle cx="480.2" cy="215.91" r="3.6" fill="#ff0000" stroke="#300" stroke-width="0.7"/>
<circle cx="483.6" cy="215.41" r="3.6" fill="#ff0000" stroke="#300" stroke-width="0.7"/>
<circle cx="487" cy="215.87" r="3.6" fill="#ff0000" stroke="#300" stroke-width="0.7"/>
<circle cx="490.4" cy="216.69" r="3.6" fill="#ff0000" stroke="#300" stroke-width="0.7"/>
<circle cx="493.8" cy="217.42" r="3.6" fill="#ff0000" stroke="#300" stroke-width="0.7"/>
<circle cx="497.2" cy="217.31" r="3.6" fill="#ff0000" stroke="#300" stroke-width="0.7"/>
<circle cx="500.6" cy="217.41" r="3.6" fill="#ff0000" stroke="#300" stroke-width="0.7"/>
<circle cx="504" cy="218.27" r="3.6" fill="#ff0000" stroke="#300" stroke-width="0.7"/>
<circle cx="507.4" cy="217.33" r="3.6" fill="#ff0000" stroke="#300" stroke-width="0.7"/>
<circle cx="510.8" cy="218.5" r="3.6" fill="#ff0000" stroke="#300" stroke-width="0.7"/>
<circle cx="514.2" cy="218.11" r="3.6" fill="#ff0000" stroke="#300" stroke-width="0.7"/>
<circle cx="517.6" cy="218.23" r="3.6" fill="#ff0000" stroke="#300" stroke-width="0.7"/>
<circle cx="521" cy="218.5" r="3.6" fill="#ff0000" stroke="#300" stroke-width="0.7"/>
<rect x="335.3" y="262.8" width="6.4" height="6.4" fill="#0a0aff" stroke="#000" stroke-width="0.8"/>
<rect x="343.8" y="253.8" width="6.4" height="6.4" fill="#0a0aff" stroke="#000" stroke-width="0.8"/>
<rect x="345.8" y="248.8" width="6.4" height="6.4" fill="#0a0aff" stroke="#000" stroke-width="0.8"/>
<rect x="346.8" y="253.3" width="6.4" height="6.4" fill="#0a0aff" stroke="#000" stroke-width="0.8"/>
<rect x="349.8" y="249.8" width="6.4" height="6.4" fill="#0a0aff" stroke="#000" stroke-width="0.8"/>
<rect x="351.8" y="252.8" width="6.4" height="6.4" fill="#0a0aff" stroke="#000" stroke-width="0.8"/>
<rect x="353.8" y="250.8" width="6.4" height="6.4" fill="#0a0aff" stroke="#000" stroke-width="0.8"/>
<rect x="355.8" y="250.8" width="6.4" height="6.4" fill="#0a0aff" stroke="#000" stroke-width="0.8"/>
<rect x="357.8" y="248.8" width="6.4" height="6.4" fill="#0a0aff" stroke="#000" stroke-width="0.8"/>
<rect x="359.8" y="249.8" width="6.4" height="6.4" fill="#0a0aff" stroke="#000" stroke-width="0.8"/>
<rect x="361.8" y="245.4" width="6.4" height="6.4" fill="#0a0aff" stroke="#000" stroke-width="0.8"/>
<rect x="364.8" y="246.3" width="6.4" height="6.4" fill="#0a0aff" stroke="#000" stroke-width="0.8"/>
<rect x="368.8" y="245.8" width="6.4" height="6.4" fill="#0a0aff" stroke="#000" stroke-width="0.8"/>
<rect x="372.8" y="240.3" width="6.4" height="6.4" fill="#0a0aff" stroke="#000" stroke-width="0.8"/>
<rect x="392.8" y="224.8" width="6.4" height="6.4" fill="#0a0aff" stroke="#000" stroke-width="0.8"/>
<rect x="379.8" y="233.8" width="6.4" height="6.4" fill="#0a0aff" stroke="#000" stroke-width="0.8"/>
<rect x="382.8" y="230.05" width="6.4" height="6.4" fill="#0a0aff" stroke="#000" stroke-width="0.8"/>
<rect x="385.8" y="227.13" width="6.4" height="6.4" fill="#0a0aff" stroke="#000" stroke-width="0.8"/>
<rect x="388.8" y="224.4" width="6.4" height="6.4" fill="#0a0aff" stroke="#000" stroke-width="0.8"/>
<rect x="391.8" y="221.77" width="6.4" height="6.4" fill="#0a0aff" stroke="#000" stroke-width="0.8"/>
<rect x="394.8" y="219.67" width="6.4" height="6.4" fill="#0a0aff" stroke="#000" stroke-width="0.8"/>
<rect x="397.8" y="218.03" width="6.4" height="6.4" fill="#0a0aff" stroke="#000" stroke-width="0.8"/>
<rect x="400.8" y="216.94" width="6.4" height="6.4" fill="#0a0aff" stroke="#000" stroke-width="0.8"/>
<rect x="403.8" y="215.82" width="6.4" height="6.4" fill="#0a0aff" stroke="#000" stroke-width="0.8"/>
<rect x="406.8" y="214.6" width="6.4" height="6.4" fill="#0a0aff" stroke="#000" stroke-width="0.8"/>
<rect x="409.8" y="213.85" width="6.4" height="6.4" fill="#0a0aff" stroke="#000" stroke-width="0.8"/>
<rect x="412.8" y="213.68" width="6.4" height="6.4" fill="#0a0aff" stroke="#000" stroke-width="0.8"/>
<rect x="415.8" y="213.8" width="6.4" height="6.4" fill="#0a0aff" stroke="#000" stroke-width="0.8"/>
<rect x="418.8" y="214.55" width="6.4" height="6.4" fill="#0a0aff" stroke="#000" stroke-width="0.8"/>
<rect x="421.8" y="215.3" width="6.4" height="6.4" fill="#0a0aff" stroke="#000" stroke-width="0.8"/>
<rect x="424.8" y="216.05" width="6.4" height="6.4" fill="#0a0aff" stroke="#000" stroke-width="0.8"/>
<rect x="427.8" y="216.8" width="6.4" height="6.4" fill="#0a0aff" stroke="#000" stroke-width="0.8"/>
<rect x="430.8" y="217.4" width="6.4" height="6.4" fill="#0a0aff" stroke="#000" stroke-width="0.8"/>
<rect x="433.8" y="218.18" width="6.4" height="6.4" fill="#0a0aff" stroke="#000" stroke-width="0.8"/>
<rect x="436.8" y="219.3" width="6.4" height="6.4" fill="#0a0aff" stroke="#000" stroke-width="0.8"/>
<rect x="439.8" y="220.65" width="6.4" height="6.4" fill="#0a0aff" stroke="#000" stroke-width="0.8"/>
<rect x="442.8" y="223.56" width="6.4" height="6.4" fill="#0a0aff" stroke="#000" stroke-width="0.8"/>
<rect x="445.8" y="224.2" width="6.4" height="6.4" fill="#0a0aff" stroke="#000" stroke-width="0.8"/>
<rect x="448.8" y="224.8" width="6.4" height="6.4" fill="#0a0aff" stroke="#000" stroke-width="0.8"/>
<rect x="451.8" y="225.16" width="6.4" height="6.4" fill="#0a0aff" stroke="#000" stroke-width="0.8"/>
<rect x="454.8" y="225.48" width="6.4" height="6.4" fill="#0a0aff" stroke="#000" stroke-width="0.8"/>
<rect x="457.8" y="225.72" width="6.4" height="6.4" fill="#0a0aff" stroke="#000" stroke-width="0.8"/>
<rect x="460.8" y="226" width="6.4" height="6.4" fill="#0a0aff" stroke="#000" stroke-width="0.8"/>
<rect x="463.8" y="226.3" width="6.4" height="6.4" fill="#0a0aff" stroke="#000" stroke-width="0.8"/>
<rect x="466.8" y="226.9" width="6.4" height="6.4" fill="#0a0aff" stroke="#000" stroke-width="0.8"/>
<rect x="469.8" y="227.55" width="6.4" height="6.4" fill="#0a0aff" stroke="#000" stroke-width="0.8"/>
<rect x="472.8" y="228.3" width="6.4" height="6.4" fill="#0a0aff" stroke="#000" stroke-width="0.8"/>
<rect x="475.8" y="229.43" width="6.4" height="6.4" fill="#0a0aff" stroke="#000" stroke-width="0.8"/>
<rect x="478.8" y="231.4" width="6.4" height="6.4" fill="#0a0aff" stroke="#000" stroke-width="0.8"/>
<rect x="481.8" y="233.5" width="6.4" height="6.4" fill="#0a0aff" stroke="#000" stroke-width="0.8"/>
<rect x="484.8" y="235.6" width="6.4" height="6.4" fill="#0a0aff" stroke="#000" stroke-width="0.8"/>
<rect x="487.8" y="237.93" width="6.4" height="6.4" fill="#0a0aff" stroke="#000" stroke-width="0.8"/>
<rect x="490.8" y="240.05" width="6.4" height="6.4" fill="#0a0aff" stroke="#000" stroke-width="0.8"/>
<rect x="493.8" y="242" width="6.4" height="6.4" fill="#0a0aff" stroke="#000" stroke-width="0.8"/>
<rect x="496.8" y="244.8" width="6.4" height="6.4" fill="#0a0aff" stroke="#000" stroke-width="0.8"/>
<rect x="499.8" y="245.4" width="6.4" height="6.4" fill="#0a0aff" stroke="#000" stroke-width="0.8"/>
<rect x="502.8" y="244.4" width="6.4" height="6.4" fill="#0a0aff" stroke="#000" stroke-width="0.8"/>
<rect x="505.8" y="247.47" width="6.4" height="6.4" fill="#0a0aff" stroke="#000" stroke-width="0.8"/>
<rect x="508.8" y="251.8" width="6.4" height="6.4" fill="#0a0aff" stroke="#000" stroke-width="0.8"/>
<rect x="511.8" y="255.8" width="6.4" height="6.4" fill="#0a0aff" stroke="#000" stroke-width="0.8"/>
<rect x="514.8" y="260.13" width="6.4" height="6.4" fill="#0a0aff" stroke="#000" stroke-width="0.8"/>
<rect x="517.8" y="264.13" width="6.4" height="6.4" fill="#0a0aff" stroke="#000" stroke-width="0.8"/>
<circle cx="70.1" cy="213.2" r="3.7" fill="#ff0000" stroke="#300" stroke-width="0.7"/>
<rect x="67.1" y="223.7" width="6.6" height="6.6" fill="#0a0aff" stroke="#000" stroke-width="0.8"/>
<circle cx="341.7" cy="212.8" r="3.7" fill="#ff0000" stroke="#300" stroke-width="0.7"/>
<rect x="338.4" y="223.6" width="6.6" height="6.6" fill="#0a0aff" stroke="#000" stroke-width="0.8"/>
<g font-family='"Liberation Sans", sans-serif' fill="#111">
<text x="85.3" y="215.2" font-size="8.8">Q</text><text x="92.14" y="215.2" font-size="8.8">'</text><text x="92.14" y="217.8" font-size="6.5">0</text>
<text x="85.3" y="229.4" font-size="8.8">Q</text><text x="92.14" y="229.4" font-size="8.8">"</text><text x="92.14" y="232" font-size="6.5">0</text>
<text x="357.4" y="215" font-size="8.8">Q</text><text x="364.24" y="215" font-size="8.8">'</text><text x="364.24" y="217.6" font-size="6.5">0</text>
<text x="357.4" y="229.2" font-size="8.8">Q</text><text x="364.24" y="229.2" font-size="8.8">"</text><text x="364.24" y="231.8" font-size="6.5">0</text>
</g>
</g>
<g clip-path="url(#c3)">
<circle cx="80.4" cy="369.5" r="2.5" fill="#fff" stroke="#858585" stroke-width="2.2"/>
<circle cx="84.5" cy="362.4" r="2.5" fill="#fff" stroke="#858585" stroke-width="2.2"/>
<circle cx="88.8" cy="356" r="2.5" fill="#fff" stroke="#858585" stroke-width="2.2"/>
<circle cx="92.7" cy="350" r="2.5" fill="#fff" stroke="#858585" stroke-width="2.2"/>
<circle cx="93.6" cy="347" r="2.5" fill="#fff" stroke="#858585" stroke-width="2.2"/>
<circle cx="96.8" cy="342" r="2.5" fill="#fff" stroke="#858585" stroke-width="2.2"/>
<circle cx="100.8" cy="337" r="2.5" fill="#fff" stroke="#858585" stroke-width="2.2"/>
<circle cx="103" cy="331" r="2.5" fill="#fff" stroke="#858585" stroke-width="2.2"/>
<circle cx="105.5" cy="329" r="2.5" fill="#fff" stroke="#858585" stroke-width="2.2"/>
<circle cx="108.5" cy="330.5" r="2.5" fill="#fff" stroke="#858585" stroke-width="2.2"/>
<circle cx="109" cy="324" r="2.5" fill="#fff" stroke="#858585" stroke-width="2.2"/>
<circle cx="112" cy="320" r="2.5" fill="#fff" stroke="#858585" stroke-width="2.2"/>
<circle cx="112.5" cy="322.5" r="2.5" fill="#fff" stroke="#858585" stroke-width="2.2"/>
<circle cx="115" cy="317" r="2.5" fill="#fff" stroke="#858585" stroke-width="2.2"/>
<circle cx="116.6" cy="318.5" r="2.5" fill="#fff" stroke="#858585" stroke-width="2.2"/>
<circle cx="119" cy="315" r="2.5" fill="#fff" stroke="#858585" stroke-width="2.2"/>
<circle cx="121" cy="316.5" r="2.5" fill="#fff" stroke="#858585" stroke-width="2.2"/>
<circle cx="124" cy="313" r="2.5" fill="#fff" stroke="#858585" stroke-width="2.2"/>
<circle cx="126.5" cy="314.5" r="2.5" fill="#fff" stroke="#858585" stroke-width="2.2"/>
<circle cx="129" cy="315" r="2.5" fill="#fff" stroke="#858585" stroke-width="2.2"/>
<circle cx="134" cy="313" r="2.5" fill="#fff" stroke="#858585" stroke-width="2.2"/>
<circle cx="138" cy="311" r="2.5" fill="#fff" stroke="#858585" stroke-width="2.2"/>
<circle cx="142" cy="311" r="2.5" fill="#fff" stroke="#858585" stroke-width="2.2"/>
<circle cx="147" cy="311" r="2.5" fill="#fff" stroke="#858585" stroke-width="2.2"/>
<circle cx="152" cy="310" r="2.5" fill="#fff" stroke="#858585" stroke-width="2.2"/>
<circle cx="157" cy="311" r="2.5" fill="#fff" stroke="#858585" stroke-width="2.2"/>
<circle cx="162" cy="313" r="2.5" fill="#fff" stroke="#858585" stroke-width="2.2"/>
<circle cx="167" cy="313.5" r="2.5" fill="#fff" stroke="#858585" stroke-width="2.2"/>
<circle cx="172" cy="314" r="2.5" fill="#fff" stroke="#858585" stroke-width="2.2"/>
<circle cx="177" cy="313" r="2.5" fill="#fff" stroke="#858585" stroke-width="2.2"/>
<circle cx="180" cy="315.5" r="2.5" fill="#fff" stroke="#858585" stroke-width="2.2"/>
<circle cx="184" cy="312.5" r="2.5" fill="#fff" stroke="#858585" stroke-width="2.2"/>
<circle cx="190" cy="313.5" r="2.5" fill="#fff" stroke="#858585" stroke-width="2.2"/>
<circle cx="195" cy="314.5" r="2.5" fill="#fff" stroke="#858585" stroke-width="2.2"/>
<circle cx="200" cy="315" r="2.5" fill="#fff" stroke="#858585" stroke-width="2.2"/>
<circle cx="205" cy="315.5" r="2.5" fill="#fff" stroke="#858585" stroke-width="2.2"/>
<circle cx="210" cy="315.5" r="2.5" fill="#fff" stroke="#858585" stroke-width="2.2"/>
<circle cx="215" cy="316" r="2.5" fill="#fff" stroke="#858585" stroke-width="2.2"/>
<circle cx="220" cy="317" r="2.5" fill="#fff" stroke="#858585" stroke-width="2.2"/>
<circle cx="225" cy="318" r="2.5" fill="#fff" stroke="#858585" stroke-width="2.2"/>
<circle cx="230" cy="318.5" r="2.5" fill="#fff" stroke="#858585" stroke-width="2.2"/>
<circle cx="235" cy="319" r="2.5" fill="#fff" stroke="#858585" stroke-width="2.2"/>
<circle cx="240" cy="319.5" r="2.5" fill="#fff" stroke="#858585" stroke-width="2.2"/>
<circle cx="245" cy="320" r="2.5" fill="#fff" stroke="#858585" stroke-width="2.2"/>
<circle cx="249" cy="320.5" r="2.5" fill="#fff" stroke="#858585" stroke-width="2.2"/>
<circle cx="338.5" cy="379" r="2.6" fill="#fff" stroke="#858585" stroke-width="2.25"/>
<circle cx="348.4" cy="362.6" r="2.6" fill="#fff" stroke="#858585" stroke-width="2.25"/>
<circle cx="352" cy="360" r="2.6" fill="#fff" stroke="#858585" stroke-width="2.25"/>
<circle cx="355" cy="358" r="2.6" fill="#fff" stroke="#858585" stroke-width="2.25"/>
<circle cx="359" cy="356" r="2.6" fill="#fff" stroke="#858585" stroke-width="2.25"/>
<circle cx="364" cy="354.5" r="2.6" fill="#fff" stroke="#858585" stroke-width="2.25"/>
<circle cx="367" cy="353" r="2.6" fill="#fff" stroke="#858585" stroke-width="2.25"/>
<circle cx="371" cy="352" r="2.6" fill="#fff" stroke="#858585" stroke-width="2.25"/>
<circle cx="375" cy="350" r="2.6" fill="#fff" stroke="#858585" stroke-width="2.25"/>
<circle cx="383" cy="343" r="2.6" fill="#fff" stroke="#858585" stroke-width="2.25"/>
<circle cx="383" cy="348" r="2.6" fill="#fff" stroke="#858585" stroke-width="2.25"/>
<circle cx="389" cy="343.5" r="2.6" fill="#fff" stroke="#858585" stroke-width="2.25"/>
<circle cx="388" cy="337" r="2.6" fill="#fff" stroke="#858585" stroke-width="2.25"/>
<circle cx="393" cy="335" r="2.6" fill="#fff" stroke="#858585" stroke-width="2.25"/>
<circle cx="394" cy="340" r="2.6" fill="#fff" stroke="#858585" stroke-width="2.25"/>
<circle cx="397" cy="331" r="2.6" fill="#fff" stroke="#858585" stroke-width="2.25"/>
<circle cx="400" cy="328" r="2.6" fill="#fff" stroke="#858585" stroke-width="2.25"/>
<circle cx="403" cy="325" r="2.6" fill="#fff" stroke="#858585" stroke-width="2.25"/>
<circle cx="407" cy="322" r="2.6" fill="#fff" stroke="#858585" stroke-width="2.25"/>
<circle cx="411" cy="319" r="2.6" fill="#fff" stroke="#858585" stroke-width="2.25"/>
<circle cx="414" cy="315" r="2.6" fill="#fff" stroke="#858585" stroke-width="2.25"/>
<circle cx="418" cy="314" r="2.6" fill="#fff" stroke="#858585" stroke-width="2.25"/>
<circle cx="420.8" cy="314" r="2.6" fill="#fff" stroke="#858585" stroke-width="2.25"/>
<circle cx="423.6" cy="314" r="2.6" fill="#fff" stroke="#858585" stroke-width="2.25"/>
<circle cx="426.4" cy="314" r="2.6" fill="#fff" stroke="#858585" stroke-width="2.25"/>
<circle cx="429.2" cy="314" r="2.6" fill="#fff" stroke="#858585" stroke-width="2.25"/>
<circle cx="432" cy="314" r="2.6" fill="#fff" stroke="#858585" stroke-width="2.25"/>
<circle cx="434.8" cy="314.93" r="2.6" fill="#fff" stroke="#858585" stroke-width="2.25"/>
<circle cx="437.6" cy="315.87" r="2.6" fill="#fff" stroke="#858585" stroke-width="2.25"/>
<circle cx="440.4" cy="315.76" r="2.6" fill="#fff" stroke="#858585" stroke-width="2.25"/>
<circle cx="443.2" cy="315.48" r="2.6" fill="#fff" stroke="#858585" stroke-width="2.25"/>
<circle cx="446" cy="315.2" r="2.6" fill="#fff" stroke="#858585" stroke-width="2.25"/>
<circle cx="448.8" cy="314.89" r="2.6" fill="#fff" stroke="#858585" stroke-width="2.25"/>
<circle cx="451.6" cy="314.52" r="2.6" fill="#fff" stroke="#858585" stroke-width="2.25"/>
<circle cx="454.4" cy="314.15" r="2.6" fill="#fff" stroke="#858585" stroke-width="2.25"/>
<circle cx="457.2" cy="313.77" r="2.6" fill="#fff" stroke="#858585" stroke-width="2.25"/>
<circle cx="460" cy="313.4" r="2.6" fill="#fff" stroke="#858585" stroke-width="2.25"/>
<circle cx="462.8" cy="313.03" r="2.6" fill="#fff" stroke="#858585" stroke-width="2.25"/>
<circle cx="465.6" cy="313.23" r="2.6" fill="#fff" stroke="#858585" stroke-width="2.25"/>
<circle cx="468.4" cy="313.48" r="2.6" fill="#fff" stroke="#858585" stroke-width="2.25"/>
<circle cx="471.2" cy="313.72" r="2.6" fill="#fff" stroke="#858585" stroke-width="2.25"/>
<circle cx="474" cy="313.97" r="2.6" fill="#fff" stroke="#858585" stroke-width="2.25"/>
<circle cx="476.8" cy="314.22" r="2.6" fill="#fff" stroke="#858585" stroke-width="2.25"/>
<circle cx="479.6" cy="314.46" r="2.6" fill="#fff" stroke="#858585" stroke-width="2.25"/>
<circle cx="482.4" cy="314.98" r="2.6" fill="#fff" stroke="#858585" stroke-width="2.25"/>
<circle cx="485.2" cy="315.54" r="2.6" fill="#fff" stroke="#858585" stroke-width="2.25"/>
<circle cx="488" cy="316.1" r="2.6" fill="#fff" stroke="#858585" stroke-width="2.25"/>
<circle cx="490.8" cy="316.73" r="2.6" fill="#fff" stroke="#858585" stroke-width="2.25"/>
<circle cx="493.6" cy="317.53" r="2.6" fill="#fff" stroke="#858585" stroke-width="2.25"/>
<circle cx="496.4" cy="318.33" r="2.6" fill="#fff" stroke="#858585" stroke-width="2.25"/>
<circle cx="499.2" cy="318.64" r="2.6" fill="#fff" stroke="#858585" stroke-width="2.25"/>
<circle cx="502" cy="318.81" r="2.6" fill="#fff" stroke="#858585" stroke-width="2.25"/>
<circle cx="504.8" cy="318.99" r="2.6" fill="#fff" stroke="#858585" stroke-width="2.25"/>
<circle cx="507.6" cy="319.56" r="2.6" fill="#fff" stroke="#858585" stroke-width="2.25"/>
<circle cx="510.4" cy="320.16" r="2.6" fill="#fff" stroke="#858585" stroke-width="2.25"/>
<circle cx="513.2" cy="320.7" r="2.6" fill="#fff" stroke="#858585" stroke-width="2.25"/>
<circle cx="516" cy="321.17" r="2.6" fill="#fff" stroke="#858585" stroke-width="2.25"/>
<circle cx="518.8" cy="321.63" r="2.6" fill="#fff" stroke="#858585" stroke-width="2.25"/>
</g>
<rect x="56.6" y="9.3" width="209.1" height="377.4" fill="none" stroke="#000" stroke-width="1.2"/>
<line x1="56.6" y1="103.7" x2="265.7" y2="103.7" stroke="#000" stroke-width="1.25" />
<line x1="56.6" y1="198.2" x2="265.7" y2="198.2" stroke="#000" stroke-width="1.25" />
<line x1="56.6" y1="292.6" x2="265.7" y2="292.6" stroke="#000" stroke-width="1.25" />
<path d="M56.6 9.3V14.2M56.6 98.8V108.6M56.6 193.3V203.1M56.6 287.7V297.5M56.6 381.8V386.7M69.19 9.3V13.1M69.19 99.9V107.5M69.19 194.4V202M69.19 288.8V296.4M69.19 382.9V386.7M76.55 9.3V13.1M76.55 99.9V107.5M76.55 194.4V202M76.55 288.8V296.4M76.55 382.9V386.7M81.78 9.3V13.1M81.78 99.9V107.5M81.78 194.4V202M81.78 288.8V296.4M81.78 382.9V386.7M85.83 9.3V13.1M85.83 99.9V107.5M85.83 194.4V202M85.83 288.8V296.4M85.83 382.9V386.7M89.14 9.3V13.1M89.14 99.9V107.5M89.14 194.4V202M89.14 288.8V296.4M89.14 382.9V386.7M91.94 9.3V13.1M91.94 99.9V107.5M91.94 194.4V202M91.94 288.8V296.4M91.94 382.9V386.7M94.37 9.3V13.1M94.37 99.9V107.5M94.37 194.4V202M94.37 288.8V296.4M94.37 382.9V386.7M96.51 9.3V13.1M96.51 99.9V107.5M96.51 194.4V202M96.51 288.8V296.4M96.51 382.9V386.7M98.42 9.3V14.2M98.42 98.8V108.6M98.42 193.3V203.1M98.42 287.7V297.5M98.42 381.8V386.7M111.01 9.3V13.1M111.01 99.9V107.5M111.01 194.4V202M111.01 288.8V296.4M111.01 382.9V386.7M118.37 9.3V13.1M118.37 99.9V107.5M118.37 194.4V202M118.37 288.8V296.4M118.37 382.9V386.7M123.6 9.3V13.1M123.6 99.9V107.5M123.6 194.4V202M123.6 288.8V296.4M123.6 382.9V386.7M127.65 9.3V13.1M127.65 99.9V107.5M127.65 194.4V202M127.65 288.8V296.4M127.65 382.9V386.7M130.96 9.3V13.1M130.96 99.9V107.5M130.96 194.4V202M130.96 288.8V296.4M130.96 382.9V386.7M133.76 9.3V13.1M133.76 99.9V107.5M133.76 194.4V202M133.76 288.8V296.4M133.76 382.9V386.7M136.19 9.3V13.1M136.19 99.9V107.5M136.19 194.4V202M136.19 288.8V296.4M136.19 382.9V386.7M138.33 9.3V13.1M138.33 99.9V107.5M138.33 194.4V202M138.33 288.8V296.4M138.33 382.9V386.7M140.24 9.3V14.2M140.24 98.8V108.6M140.24 193.3V203.1M140.24 287.7V297.5M140.24 381.8V386.7M152.83 9.3V13.1M152.83 99.9V107.5M152.83 194.4V202M152.83 288.8V296.4M152.83 382.9V386.7M160.19 9.3V13.1M160.19 99.9V107.5M160.19 194.4V202M160.19 288.8V296.4M160.19 382.9V386.7M165.42 9.3V13.1M165.42 99.9V107.5M165.42 194.4V202M165.42 288.8V296.4M165.42 382.9V386.7M169.47 9.3V13.1M169.47 99.9V107.5M169.47 194.4V202M169.47 288.8V296.4M169.47 382.9V386.7M172.78 9.3V13.1M172.78 99.9V107.5M172.78 194.4V202M172.78 288.8V296.4M172.78 382.9V386.7M175.58 9.3V13.1M175.58 99.9V107.5M175.58 194.4V202M175.58 288.8V296.4M175.58 382.9V386.7M178.01 9.3V13.1M178.01 99.9V107.5M178.01 194.4V202M178.01 288.8V296.4M178.01 382.9V386.7M180.15 9.3V13.1M180.15 99.9V107.5M180.15 194.4V202M180.15 288.8V296.4M180.15 382.9V386.7M182.06 9.3V14.2M182.06 98.8V108.6M182.06 193.3V203.1M182.06 287.7V297.5M182.06 381.8V386.7M194.65 9.3V13.1M194.65 99.9V107.5M194.65 194.4V202M194.65 288.8V296.4M194.65 382.9V386.7M202.01 9.3V13.1M202.01 99.9V107.5M202.01 194.4V202M202.01 288.8V296.4M202.01 382.9V386.7M207.24 9.3V13.1M207.24 99.9V107.5M207.24 194.4V202M207.24 288.8V296.4M207.24 382.9V386.7M211.29 9.3V13.1M211.29 99.9V107.5M211.29 194.4V202M211.29 288.8V296.4M211.29 382.9V386.7M214.6 9.3V13.1M214.6 99.9V107.5M214.6 194.4V202M214.6 288.8V296.4M214.6 382.9V386.7M217.4 9.3V13.1M217.4 99.9V107.5M217.4 194.4V202M217.4 288.8V296.4M217.4 382.9V386.7M219.83 9.3V13.1M219.83 99.9V107.5M219.83 194.4V202M219.83 288.8V296.4M219.83 382.9V386.7M221.97 9.3V13.1M221.97 99.9V107.5M221.97 194.4V202M221.97 288.8V296.4M221.97 382.9V386.7M223.88 9.3V14.2M223.88 98.8V108.6M223.88 193.3V203.1M223.88 287.7V297.5M223.88 381.8V386.7M236.47 9.3V13.1M236.47 99.9V107.5M236.47 194.4V202M236.47 288.8V296.4M236.47 382.9V386.7M243.83 9.3V13.1M243.83 99.9V107.5M243.83 194.4V202M243.83 288.8V296.4M243.83 382.9V386.7M249.06 9.3V13.1M249.06 99.9V107.5M249.06 194.4V202M249.06 288.8V296.4M249.06 382.9V386.7M253.11 9.3V13.1M253.11 99.9V107.5M253.11 194.4V202M253.11 288.8V296.4M253.11 382.9V386.7M256.42 9.3V13.1M256.42 99.9V107.5M256.42 194.4V202M256.42 288.8V296.4M256.42 382.9V386.7M259.22 9.3V13.1M259.22 99.9V107.5M259.22 194.4V202M259.22 288.8V296.4M259.22 382.9V386.7M261.65 9.3V13.1M261.65 99.9V107.5M261.65 194.4V202M261.65 288.8V296.4M261.65 382.9V386.7M263.79 9.3V13.1M263.79 99.9V107.5M263.79 194.4V202M263.79 288.8V296.4M263.79 382.9V386.7M265.7 9.3V14.2M265.7 98.8V108.6M265.7 193.3V203.1M265.7 287.7V297.5M265.7 381.8V386.7" stroke="#000" stroke-width="0.9" fill="none"/>
<rect x="328.1" y="9.3" width="209.6" height="377.4" fill="none" stroke="#000" stroke-width="1.2"/>
<line x1="328.1" y1="103.7" x2="537.7" y2="103.7" stroke="#000" stroke-width="1.25" />
<line x1="328.1" y1="198.2" x2="537.7" y2="198.2" stroke="#000" stroke-width="1.25" />
<line x1="328.1" y1="292.6" x2="537.7" y2="292.6" stroke="#000" stroke-width="1.25" />
<path d="M328.1 9.3V14.2M328.1 98.8V108.6M328.1 193.3V203.1M328.1 287.7V297.5M328.1 381.8V386.7M338.62 9.3V13.1M338.62 99.9V107.5M338.62 194.4V202M338.62 288.8V296.4M338.62 382.9V386.7M344.77 9.3V13.1M344.77 99.9V107.5M344.77 194.4V202M344.77 288.8V296.4M344.77 382.9V386.7M349.13 9.3V13.1M349.13 99.9V107.5M349.13 194.4V202M349.13 288.8V296.4M349.13 382.9V386.7M352.52 9.3V13.1M352.52 99.9V107.5M352.52 194.4V202M352.52 288.8V296.4M352.52 382.9V386.7M355.28 9.3V13.1M355.28 99.9V107.5M355.28 194.4V202M355.28 288.8V296.4M355.28 382.9V386.7M357.62 9.3V13.1M357.62 99.9V107.5M357.62 194.4V202M357.62 288.8V296.4M357.62 382.9V386.7M359.65 9.3V13.1M359.65 99.9V107.5M359.65 194.4V202M359.65 288.8V296.4M359.65 382.9V386.7M361.43 9.3V13.1M361.43 99.9V107.5M361.43 194.4V202M361.43 288.8V296.4M361.43 382.9V386.7M363.03 9.3V14.2M363.03 98.8V108.6M363.03 193.3V203.1M363.03 287.7V297.5M363.03 381.8V386.7M373.55 9.3V13.1M373.55 99.9V107.5M373.55 194.4V202M373.55 288.8V296.4M373.55 382.9V386.7M379.7 9.3V13.1M379.7 99.9V107.5M379.7 194.4V202M379.7 288.8V296.4M379.7 382.9V386.7M384.07 9.3V13.1M384.07 99.9V107.5M384.07 194.4V202M384.07 288.8V296.4M384.07 382.9V386.7M387.45 9.3V13.1M387.45 99.9V107.5M387.45 194.4V202M387.45 288.8V296.4M387.45 382.9V386.7M390.22 9.3V13.1M390.22 99.9V107.5M390.22 194.4V202M390.22 288.8V296.4M390.22 382.9V386.7M392.56 9.3V13.1M392.56 99.9V107.5M392.56 194.4V202M392.56 288.8V296.4M392.56 382.9V386.7M394.58 9.3V13.1M394.58 99.9V107.5M394.58 194.4V202M394.58 288.8V296.4M394.58 382.9V386.7M396.37 9.3V13.1M396.37 99.9V107.5M396.37 194.4V202M396.37 288.8V296.4M396.37 382.9V386.7M397.97 9.3V14.2M397.97 98.8V108.6M397.97 193.3V203.1M397.97 287.7V297.5M397.97 381.8V386.7M408.48 9.3V13.1M408.48 99.9V107.5M408.48 194.4V202M408.48 288.8V296.4M408.48 382.9V386.7M414.63 9.3V13.1M414.63 99.9V107.5M414.63 194.4V202M414.63 288.8V296.4M414.63 382.9V386.7M419 9.3V13.1M419 99.9V107.5M419 194.4V202M419 288.8V296.4M419 382.9V386.7M422.38 9.3V13.1M422.38 99.9V107.5M422.38 194.4V202M422.38 288.8V296.4M422.38 382.9V386.7M425.15 9.3V13.1M425.15 99.9V107.5M425.15 194.4V202M425.15 288.8V296.4M425.15 382.9V386.7M427.49 9.3V13.1M427.49 99.9V107.5M427.49 194.4V202M427.49 288.8V296.4M427.49 382.9V386.7M429.51 9.3V13.1M429.51 99.9V107.5M429.51 194.4V202M429.51 288.8V296.4M429.51 382.9V386.7M431.3 9.3V13.1M431.3 99.9V107.5M431.3 194.4V202M431.3 288.8V296.4M431.3 382.9V386.7M432.9 9.3V14.2M432.9 98.8V108.6M432.9 193.3V203.1M432.9 287.7V297.5M432.9 381.8V386.7M443.42 9.3V13.1M443.42 99.9V107.5M443.42 194.4V202M443.42 288.8V296.4M443.42 382.9V386.7M449.57 9.3V13.1M449.57 99.9V107.5M449.57 194.4V202M449.57 288.8V296.4M449.57 382.9V386.7M453.93 9.3V13.1M453.93 99.9V107.5M453.93 194.4V202M453.93 288.8V296.4M453.93 382.9V386.7M457.32 9.3V13.1M457.32 99.9V107.5M457.32 194.4V202M457.32 288.8V296.4M457.32 382.9V386.7M460.08 9.3V13.1M460.08 99.9V107.5M460.08 194.4V202M460.08 288.8V296.4M460.08 382.9V386.7M462.42 9.3V13.1M462.42 99.9V107.5M462.42 194.4V202M462.42 288.8V296.4M462.42 382.9V386.7M464.45 9.3V13.1M464.45 99.9V107.5M464.45 194.4V202M464.45 288.8V296.4M464.45 382.9V386.7M466.23 9.3V13.1M466.23 99.9V107.5M466.23 194.4V202M466.23 288.8V296.4M466.23 382.9V386.7M467.83 9.3V14.2M467.83 98.8V108.6M467.83 193.3V203.1M467.83 287.7V297.5M467.83 381.8V386.7M478.35 9.3V13.1M478.35 99.9V107.5M478.35 194.4V202M478.35 288.8V296.4M478.35 382.9V386.7M484.5 9.3V13.1M484.5 99.9V107.5M484.5 194.4V202M484.5 288.8V296.4M484.5 382.9V386.7M488.87 9.3V13.1M488.87 99.9V107.5M488.87 194.4V202M488.87 288.8V296.4M488.87 382.9V386.7M492.25 9.3V13.1M492.25 99.9V107.5M492.25 194.4V202M492.25 288.8V296.4M492.25 382.9V386.7M495.02 9.3V13.1M495.02 99.9V107.5M495.02 194.4V202M495.02 288.8V296.4M495.02 382.9V386.7M497.36 9.3V13.1M497.36 99.9V107.5M497.36 194.4V202M497.36 288.8V296.4M497.36 382.9V386.7M499.38 9.3V13.1M499.38 99.9V107.5M499.38 194.4V202M499.38 288.8V296.4M499.38 382.9V386.7M501.17 9.3V13.1M501.17 99.9V107.5M501.17 194.4V202M501.17 288.8V296.4M501.17 382.9V386.7M502.77 9.3V14.2M502.77 98.8V108.6M502.77 193.3V203.1M502.77 287.7V297.5M502.77 381.8V386.7M513.28 9.3V13.1M513.28 99.9V107.5M513.28 194.4V202M513.28 288.8V296.4M513.28 382.9V386.7M519.43 9.3V13.1M519.43 99.9V107.5M519.43 194.4V202M519.43 288.8V296.4M519.43 382.9V386.7M523.8 9.3V13.1M523.8 99.9V107.5M523.8 194.4V202M523.8 288.8V296.4M523.8 382.9V386.7M527.18 9.3V13.1M527.18 99.9V107.5M527.18 194.4V202M527.18 288.8V296.4M527.18 382.9V386.7M529.95 9.3V13.1M529.95 99.9V107.5M529.95 194.4V202M529.95 288.8V296.4M529.95 382.9V386.7M532.29 9.3V13.1M532.29 99.9V107.5M532.29 194.4V202M532.29 288.8V296.4M532.29 382.9V386.7M534.31 9.3V13.1M534.31 99.9V107.5M534.31 194.4V202M534.31 288.8V296.4M534.31 382.9V386.7M536.1 9.3V13.1M536.1 99.9V107.5M536.1 194.4V202M536.1 288.8V296.4M536.1 382.9V386.7M537.7 9.3V14.2M537.7 98.8V108.6M537.7 193.3V203.1M537.7 287.7V297.5M537.7 381.8V386.7" stroke="#000" stroke-width="0.9" fill="none"/>
<path d="M56.6 20.9h4M265.7 20.9h-4M56.6 43.4h4M265.7 43.4h-4M56.6 65.9h4M265.7 65.9h-4M56.6 88.4h4M265.7 88.4h-4M56.6 112.4h4M265.7 112.4h-4M56.6 141.7h4M265.7 141.7h-4M56.6 171.2h4M265.7 171.2h-4M56.6 225.1h4M265.7 225.1h-4M56.6 265.5h4M265.7 265.5h-4M56.6 322h4M265.7 322h-4M56.6 364h4M265.7 364h-4M328.1 22.5h4M537.7 22.5h-4M328.1 50h4M537.7 50h-4M328.1 77.4h4M537.7 77.4h-4M328.1 143.4h4M537.7 143.4h-4M328.1 185.3h4M537.7 185.3h-4M328.1 218.4h4M537.7 218.4h-4M328.1 262.5h4M537.7 262.5h-4M328.1 323.7h4M537.7 323.7h-4" stroke="#000" stroke-width="0.9" fill="none"/>
<g font-family='"Liberation Sans", sans-serif' fill="#111">
<text x="33.56" y="25.2" font-size="11.5">10</text><text x="46.35" y="20.6" font-size="8">5</text>
<text x="33.56" y="47.7" font-size="11.5">10</text><text x="46.35" y="43.1" font-size="8">4</text>
<text x="33.56" y="70.2" font-size="11.5">10</text><text x="46.35" y="65.6" font-size="8">3</text>
<text x="33.56" y="92.7" font-size="11.5">10</text><text x="46.35" y="88.1" font-size="8">2</text>
<text x="33.56" y="116.7" font-size="11.5">10</text><text x="46.35" y="112.1" font-size="8">0</text>
<text x="30.9" y="146" font-size="11.5">10</text><text x="43.69" y="141.4" font-size="8">-1</text>
<text x="30.9" y="175.5" font-size="11.5">10</text><text x="43.69" y="170.9" font-size="8">-2</text>
<text x="30.9" y="229.4" font-size="11.5">10</text><text x="43.69" y="224.8" font-size="8">-2</text>
<text x="30.9" y="269.8" font-size="11.5">10</text><text x="43.69" y="265.2" font-size="8">-3</text>
<text x="30.9" y="326.3" font-size="11.5">10</text><text x="43.69" y="321.7" font-size="8">-2</text>
<text x="30.9" y="368.3" font-size="11.5">10</text><text x="43.69" y="363.7" font-size="8">-3</text>
<text x="305.06" y="26.8" font-size="11.5">10</text><text x="317.85" y="22.2" font-size="8">5</text>
<text x="305.06" y="54.3" font-size="11.5">10</text><text x="317.85" y="49.7" font-size="8">4</text>
<text x="305.06" y="81.7" font-size="11.5">10</text><text x="317.85" y="77.1" font-size="8">3</text>
<text x="302.4" y="147.7" font-size="11.5">10</text><text x="315.19" y="143.1" font-size="8">-1</text>
<text x="302.4" y="189.6" font-size="11.5">10</text><text x="315.19" y="185" font-size="8">-2</text>
<text x="302.4" y="222.7" font-size="11.5">10</text><text x="315.19" y="218.1" font-size="8">-2</text>
<text x="302.4" y="266.8" font-size="11.5">10</text><text x="315.19" y="262.2" font-size="8">-3</text>
<text x="302.4" y="328" font-size="11.5">10</text><text x="315.19" y="323.4" font-size="8">-2</text>
<text x="302.4" y="391.3" font-size="11.5">10</text><text x="315.19" y="386.7" font-size="8">-3</text>
<text x="46.95" y="403.6" font-size="11.5">10</text><text x="59.74" y="398.8" font-size="8">-2</text>
<text x="88.77" y="403.6" font-size="11.5">10</text><text x="101.56" y="398.8" font-size="8">-1</text>
<text x="131.92" y="403.6" font-size="11.5">10</text><text x="144.71" y="398.8" font-size="8">0</text>
<text x="173.74" y="403.6" font-size="11.5">10</text><text x="186.53" y="398.8" font-size="8">1</text>
<text x="215.56" y="403.6" font-size="11.5">10</text><text x="228.35" y="398.8" font-size="8">2</text>
<text x="257.38" y="403.6" font-size="11.5">10</text><text x="270.17" y="398.8" font-size="8">3</text>
<text x="318.45" y="403.6" font-size="11.5">10</text><text x="331.24" y="398.8" font-size="8">-3</text>
<text x="353.38" y="403.6" font-size="11.5">10</text><text x="366.17" y="398.8" font-size="8">-2</text>
<text x="388.31" y="403.6" font-size="11.5">10</text><text x="401.11" y="398.8" font-size="8">-1</text>
<text x="424.58" y="403.6" font-size="11.5">10</text><text x="437.37" y="398.8" font-size="8">0</text>
<text x="459.51" y="403.6" font-size="11.5">10</text><text x="472.3" y="398.8" font-size="8">1</text>
<text x="494.45" y="403.6" font-size="11.5">10</text><text x="507.24" y="398.8" font-size="8">2</text>
<text x="529.38" y="403.6" font-size="11.5">10</text><text x="542.17" y="398.8" font-size="8">3</text>
</g>
<g font-family='"Liberation Sans", sans-serif' fill="#111">
<g transform="translate(24.4,56.5) rotate(-90)"><text x="-30.64" y="0" font-size="13">G', G" [Pa]</text></g>
<g transform="translate(296.5,56.5) rotate(-90)"><text x="-30.64" y="0" font-size="13">G', G" [Pa]</text></g>
<g transform="translate(17.3,150.8) rotate(-90)"><text x="-49.66" y="0" font-size="11.2">G</text><text x="-40.95" y="0" font-size="11.2">'</text><text x="-40.95" y="3.5" font-size="8">31</text><text x="-32.05" y="0" font-size="11.2">/IG*I, G</text><text x="5.29" y="0" font-size="11.2">"</text><text x="5.29" y="3.5" font-size="8">31</text><text x="14.19" y="0" font-size="11.2">/IG*I [-]</text></g>
<g transform="translate(290.5,150.8) rotate(-90)"><text x="-49.66" y="0" font-size="11.2">G</text><text x="-40.95" y="0" font-size="11.2">'</text><text x="-40.95" y="3.5" font-size="8">31</text><text x="-32.05" y="0" font-size="11.2">/IG*I, G</text><text x="5.29" y="0" font-size="11.2">"</text><text x="5.29" y="3.5" font-size="8">31</text><text x="14.19" y="0" font-size="11.2">/IG*I [-]</text></g>
<g transform="translate(16.2,245.3) rotate(-90)"><text x="-26.03" y="0" font-size="13">Q</text><text x="-15.92" y="0" font-size="13">'</text><text x="-15.92" y="4" font-size="8.5">0</text><text x="-11.19" y="0" font-size="13">, Q</text><text x="6.14" y="0" font-size="13">"</text><text x="6.14" y="4" font-size="8.5">0</text><text x="10.87" y="0" font-size="13"> [-]</text></g>
<g transform="translate(287,245.3) rotate(-90)"><text x="-26.03" y="0" font-size="13">Q</text><text x="-15.92" y="0" font-size="13">'</text><text x="-15.92" y="4" font-size="8.5">0</text><text x="-11.19" y="0" font-size="13">, Q</text><text x="6.14" y="0" font-size="13">"</text><text x="6.14" y="4" font-size="8.5">0</text><text x="10.87" y="0" font-size="13"> [-]</text></g>
<g transform="translate(16.8,339.5) rotate(-90)"><text x="-15" y="0" font-size="13">Q</text><text x="-4.89" y="4" font-size="8.5">0</text><text x="-0.16" y="0" font-size="13"> [-]</text></g>
<g transform="translate(288,339.5) rotate(-90)"><text x="-15" y="0" font-size="13">Q</text><text x="-4.89" y="4" font-size="8.5">0</text><text x="-0.16" y="0" font-size="13"> [-]</text></g>
<text x="130.29" y="425.7" font-size="12.8">a</text><text x="137.4" y="430.1" font-size="8.5">T</text><text x="142.6" y="425.7" font-size="12.8">ω [rad/s]</text>
<text x="402.29" y="425.7" font-size="12.8">a</text><text x="409.4" y="430.1" font-size="8.5">T</text><text x="414.6" y="425.7" font-size="12.8">ω [rad/s]</text>
<text x="257.5" y="363" text-anchor="end" font-size="11.7">(a)</text>
<text x="257.5" y="376.4" text-anchor="end" font-size="11.5">PS290</text>
<text x="528.7" y="363" text-anchor="end" font-size="11.7">(b)</text>
<text x="529.5" y="375.7" text-anchor="end" font-size="11.5">PS290-3-44</text>
</g>
</svg></body></html>
